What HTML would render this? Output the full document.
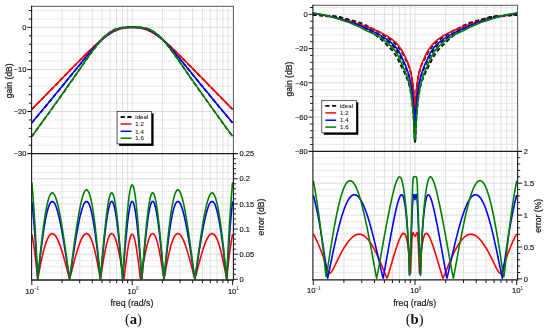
<!DOCTYPE html>
<html lang="en"><head><meta charset="utf-8"><title>Figure</title>
<style>html,body{margin:0;padding:0;background:#fff}svg{display:block}</style></head>
<body>
<svg width="550" height="330" viewBox="0 0 550 330">
<rect width="550" height="330" fill="#fff"/>
<defs>
<clipPath id="cua"><rect x="31.6" y="6.3" width="202.4" height="147.3"/></clipPath>
<clipPath id="cla"><rect x="31.6" y="153.6" width="202.6" height="126.4"/></clipPath>
<clipPath id="cub"><rect x="312.9" y="5.3" width="205.3" height="146"/></clipPath>
<clipPath id="clb"><rect x="312.9" y="151.3" width="205.5" height="128.5"/></clipPath>
</defs>
<line x1="62.02" y1="6.3" x2="62.02" y2="280" stroke="#dadada" stroke-width="0.8" />
<line x1="79.7" y1="6.3" x2="79.7" y2="280" stroke="#dadada" stroke-width="0.8" />
<line x1="92.25" y1="6.3" x2="92.25" y2="280" stroke="#dadada" stroke-width="0.8" />
<line x1="101.98" y1="6.3" x2="101.98" y2="280" stroke="#dadada" stroke-width="0.8" />
<line x1="109.93" y1="6.3" x2="109.93" y2="280" stroke="#dadada" stroke-width="0.8" />
<line x1="116.65" y1="6.3" x2="116.65" y2="280" stroke="#dadada" stroke-width="0.8" />
<line x1="122.47" y1="6.3" x2="122.47" y2="280" stroke="#dadada" stroke-width="0.8" />
<line x1="127.61" y1="6.3" x2="127.61" y2="280" stroke="#dadada" stroke-width="0.8" />
<line x1="132.2" y1="6.3" x2="132.2" y2="280" stroke="#dadada" stroke-width="0.8" />
<line x1="162.42" y1="6.3" x2="162.42" y2="280" stroke="#dadada" stroke-width="0.8" />
<line x1="180.1" y1="6.3" x2="180.1" y2="280" stroke="#dadada" stroke-width="0.8" />
<line x1="192.65" y1="6.3" x2="192.65" y2="280" stroke="#dadada" stroke-width="0.8" />
<line x1="202.38" y1="6.3" x2="202.38" y2="280" stroke="#dadada" stroke-width="0.8" />
<line x1="210.33" y1="6.3" x2="210.33" y2="280" stroke="#dadada" stroke-width="0.8" />
<line x1="217.05" y1="6.3" x2="217.05" y2="280" stroke="#dadada" stroke-width="0.8" />
<line x1="222.87" y1="6.3" x2="222.87" y2="280" stroke="#dadada" stroke-width="0.8" />
<line x1="228.01" y1="6.3" x2="228.01" y2="280" stroke="#dadada" stroke-width="0.8" />
<line x1="31.6" y1="10.57" x2="233.4" y2="10.57" stroke="#cfcfcf" stroke-width="0.7" stroke-dasharray="1.2 0.9"/>
<line x1="31.6" y1="18.99" x2="233.4" y2="18.99" stroke="#cfcfcf" stroke-width="0.7" stroke-dasharray="1.2 0.9"/>
<line x1="31.6" y1="27.4" x2="233.4" y2="27.4" stroke="#cfcfcf" stroke-width="0.7" />
<line x1="31.6" y1="35.81" x2="233.4" y2="35.81" stroke="#cfcfcf" stroke-width="0.7" stroke-dasharray="1.2 0.9"/>
<line x1="31.6" y1="44.23" x2="233.4" y2="44.23" stroke="#cfcfcf" stroke-width="0.7" stroke-dasharray="1.2 0.9"/>
<line x1="31.6" y1="52.64" x2="233.4" y2="52.64" stroke="#cfcfcf" stroke-width="0.7" stroke-dasharray="1.2 0.9"/>
<line x1="31.6" y1="61.06" x2="233.4" y2="61.06" stroke="#cfcfcf" stroke-width="0.7" stroke-dasharray="1.2 0.9"/>
<line x1="31.6" y1="69.47" x2="233.4" y2="69.47" stroke="#cfcfcf" stroke-width="0.7" />
<line x1="31.6" y1="77.88" x2="233.4" y2="77.88" stroke="#cfcfcf" stroke-width="0.7" stroke-dasharray="1.2 0.9"/>
<line x1="31.6" y1="86.3" x2="233.4" y2="86.3" stroke="#cfcfcf" stroke-width="0.7" stroke-dasharray="1.2 0.9"/>
<line x1="31.6" y1="94.71" x2="233.4" y2="94.71" stroke="#cfcfcf" stroke-width="0.7" stroke-dasharray="1.2 0.9"/>
<line x1="31.6" y1="103.13" x2="233.4" y2="103.13" stroke="#cfcfcf" stroke-width="0.7" stroke-dasharray="1.2 0.9"/>
<line x1="31.6" y1="111.54" x2="233.4" y2="111.54" stroke="#cfcfcf" stroke-width="0.7" />
<line x1="31.6" y1="119.95" x2="233.4" y2="119.95" stroke="#cfcfcf" stroke-width="0.7" stroke-dasharray="1.2 0.9"/>
<line x1="31.6" y1="128.37" x2="233.4" y2="128.37" stroke="#cfcfcf" stroke-width="0.7" stroke-dasharray="1.2 0.9"/>
<line x1="31.6" y1="136.78" x2="233.4" y2="136.78" stroke="#cfcfcf" stroke-width="0.7" stroke-dasharray="1.2 0.9"/>
<line x1="31.6" y1="145.2" x2="233.4" y2="145.2" stroke="#cfcfcf" stroke-width="0.7" stroke-dasharray="1.2 0.9"/>
<line x1="31.6" y1="273.02" x2="233.4" y2="273.02" stroke="#cfcfcf" stroke-width="0.7" stroke-dasharray="1.2 0.9"/>
<line x1="31.6" y1="266.74" x2="233.4" y2="266.74" stroke="#cfcfcf" stroke-width="0.7" stroke-dasharray="1.2 0.9"/>
<line x1="31.6" y1="260.45" x2="233.4" y2="260.45" stroke="#cfcfcf" stroke-width="0.7" stroke-dasharray="1.2 0.9"/>
<line x1="31.6" y1="254.17" x2="233.4" y2="254.17" stroke="#cfcfcf" stroke-width="0.7" />
<line x1="31.6" y1="247.89" x2="233.4" y2="247.89" stroke="#cfcfcf" stroke-width="0.7" stroke-dasharray="1.2 0.9"/>
<line x1="31.6" y1="241.61" x2="233.4" y2="241.61" stroke="#cfcfcf" stroke-width="0.7" stroke-dasharray="1.2 0.9"/>
<line x1="31.6" y1="235.32" x2="233.4" y2="235.32" stroke="#cfcfcf" stroke-width="0.7" stroke-dasharray="1.2 0.9"/>
<line x1="31.6" y1="229.04" x2="233.4" y2="229.04" stroke="#cfcfcf" stroke-width="0.7" />
<line x1="31.6" y1="222.76" x2="233.4" y2="222.76" stroke="#cfcfcf" stroke-width="0.7" stroke-dasharray="1.2 0.9"/>
<line x1="31.6" y1="216.48" x2="233.4" y2="216.48" stroke="#cfcfcf" stroke-width="0.7" stroke-dasharray="1.2 0.9"/>
<line x1="31.6" y1="210.19" x2="233.4" y2="210.19" stroke="#cfcfcf" stroke-width="0.7" stroke-dasharray="1.2 0.9"/>
<line x1="31.6" y1="203.91" x2="233.4" y2="203.91" stroke="#cfcfcf" stroke-width="0.7" />
<line x1="31.6" y1="197.63" x2="233.4" y2="197.63" stroke="#cfcfcf" stroke-width="0.7" stroke-dasharray="1.2 0.9"/>
<line x1="31.6" y1="191.34" x2="233.4" y2="191.34" stroke="#cfcfcf" stroke-width="0.7" stroke-dasharray="1.2 0.9"/>
<line x1="31.6" y1="185.06" x2="233.4" y2="185.06" stroke="#cfcfcf" stroke-width="0.7" stroke-dasharray="1.2 0.9"/>
<line x1="31.6" y1="178.78" x2="233.4" y2="178.78" stroke="#cfcfcf" stroke-width="0.7" />
<line x1="31.6" y1="172.5" x2="233.4" y2="172.5" stroke="#cfcfcf" stroke-width="0.7" stroke-dasharray="1.2 0.9"/>
<line x1="31.6" y1="166.22" x2="233.4" y2="166.22" stroke="#cfcfcf" stroke-width="0.7" stroke-dasharray="1.2 0.9"/>
<line x1="31.6" y1="159.93" x2="233.4" y2="159.93" stroke="#cfcfcf" stroke-width="0.7" stroke-dasharray="1.2 0.9"/>
<line x1="343.91" y1="5.3" x2="343.91" y2="279.8" stroke="#dadada" stroke-width="0.8" />
<line x1="361.82" y1="5.3" x2="361.82" y2="279.8" stroke="#dadada" stroke-width="0.8" />
<line x1="374.53" y1="5.3" x2="374.53" y2="279.8" stroke="#dadada" stroke-width="0.8" />
<line x1="384.39" y1="5.3" x2="384.39" y2="279.8" stroke="#dadada" stroke-width="0.8" />
<line x1="392.44" y1="5.3" x2="392.44" y2="279.8" stroke="#dadada" stroke-width="0.8" />
<line x1="399.25" y1="5.3" x2="399.25" y2="279.8" stroke="#dadada" stroke-width="0.8" />
<line x1="405.14" y1="5.3" x2="405.14" y2="279.8" stroke="#dadada" stroke-width="0.8" />
<line x1="410.35" y1="5.3" x2="410.35" y2="279.8" stroke="#dadada" stroke-width="0.8" />
<line x1="415" y1="5.3" x2="415" y2="279.8" stroke="#dadada" stroke-width="0.8" />
<line x1="445.61" y1="5.3" x2="445.61" y2="279.8" stroke="#dadada" stroke-width="0.8" />
<line x1="463.52" y1="5.3" x2="463.52" y2="279.8" stroke="#dadada" stroke-width="0.8" />
<line x1="476.23" y1="5.3" x2="476.23" y2="279.8" stroke="#dadada" stroke-width="0.8" />
<line x1="486.09" y1="5.3" x2="486.09" y2="279.8" stroke="#dadada" stroke-width="0.8" />
<line x1="494.14" y1="5.3" x2="494.14" y2="279.8" stroke="#dadada" stroke-width="0.8" />
<line x1="500.95" y1="5.3" x2="500.95" y2="279.8" stroke="#dadada" stroke-width="0.8" />
<line x1="506.84" y1="5.3" x2="506.84" y2="279.8" stroke="#dadada" stroke-width="0.8" />
<line x1="512.05" y1="5.3" x2="512.05" y2="279.8" stroke="#dadada" stroke-width="0.8" />
<line x1="312.9" y1="7.5" x2="517.6" y2="7.5" stroke="#cfcfcf" stroke-width="0.7" stroke-dasharray="1.2 0.9"/>
<line x1="312.9" y1="14.35" x2="517.6" y2="14.35" stroke="#cfcfcf" stroke-width="0.7" />
<line x1="312.9" y1="21.2" x2="517.6" y2="21.2" stroke="#cfcfcf" stroke-width="0.7" stroke-dasharray="1.2 0.9"/>
<line x1="312.9" y1="28.05" x2="517.6" y2="28.05" stroke="#cfcfcf" stroke-width="0.7" stroke-dasharray="1.2 0.9"/>
<line x1="312.9" y1="34.89" x2="517.6" y2="34.89" stroke="#cfcfcf" stroke-width="0.7" stroke-dasharray="1.2 0.9"/>
<line x1="312.9" y1="41.74" x2="517.6" y2="41.74" stroke="#cfcfcf" stroke-width="0.7" stroke-dasharray="1.2 0.9"/>
<line x1="312.9" y1="48.59" x2="517.6" y2="48.59" stroke="#cfcfcf" stroke-width="0.7" />
<line x1="312.9" y1="55.44" x2="517.6" y2="55.44" stroke="#cfcfcf" stroke-width="0.7" stroke-dasharray="1.2 0.9"/>
<line x1="312.9" y1="62.29" x2="517.6" y2="62.29" stroke="#cfcfcf" stroke-width="0.7" stroke-dasharray="1.2 0.9"/>
<line x1="312.9" y1="69.13" x2="517.6" y2="69.13" stroke="#cfcfcf" stroke-width="0.7" stroke-dasharray="1.2 0.9"/>
<line x1="312.9" y1="75.98" x2="517.6" y2="75.98" stroke="#cfcfcf" stroke-width="0.7" stroke-dasharray="1.2 0.9"/>
<line x1="312.9" y1="82.83" x2="517.6" y2="82.83" stroke="#cfcfcf" stroke-width="0.7" />
<line x1="312.9" y1="89.68" x2="517.6" y2="89.68" stroke="#cfcfcf" stroke-width="0.7" stroke-dasharray="1.2 0.9"/>
<line x1="312.9" y1="96.53" x2="517.6" y2="96.53" stroke="#cfcfcf" stroke-width="0.7" stroke-dasharray="1.2 0.9"/>
<line x1="312.9" y1="103.37" x2="517.6" y2="103.37" stroke="#cfcfcf" stroke-width="0.7" stroke-dasharray="1.2 0.9"/>
<line x1="312.9" y1="110.22" x2="517.6" y2="110.22" stroke="#cfcfcf" stroke-width="0.7" stroke-dasharray="1.2 0.9"/>
<line x1="312.9" y1="117.07" x2="517.6" y2="117.07" stroke="#cfcfcf" stroke-width="0.7" />
<line x1="312.9" y1="123.92" x2="517.6" y2="123.92" stroke="#cfcfcf" stroke-width="0.7" stroke-dasharray="1.2 0.9"/>
<line x1="312.9" y1="130.77" x2="517.6" y2="130.77" stroke="#cfcfcf" stroke-width="0.7" stroke-dasharray="1.2 0.9"/>
<line x1="312.9" y1="137.61" x2="517.6" y2="137.61" stroke="#cfcfcf" stroke-width="0.7" stroke-dasharray="1.2 0.9"/>
<line x1="312.9" y1="144.46" x2="517.6" y2="144.46" stroke="#cfcfcf" stroke-width="0.7" stroke-dasharray="1.2 0.9"/>
<line x1="312.9" y1="272.52" x2="517.6" y2="272.52" stroke="#cfcfcf" stroke-width="0.7" stroke-dasharray="1.2 0.9"/>
<line x1="312.9" y1="266.14" x2="517.6" y2="266.14" stroke="#cfcfcf" stroke-width="0.7" stroke-dasharray="1.2 0.9"/>
<line x1="312.9" y1="259.76" x2="517.6" y2="259.76" stroke="#cfcfcf" stroke-width="0.7" stroke-dasharray="1.2 0.9"/>
<line x1="312.9" y1="253.38" x2="517.6" y2="253.38" stroke="#cfcfcf" stroke-width="0.7" stroke-dasharray="1.2 0.9"/>
<line x1="312.9" y1="247" x2="517.6" y2="247" stroke="#cfcfcf" stroke-width="0.7" />
<line x1="312.9" y1="240.62" x2="517.6" y2="240.62" stroke="#cfcfcf" stroke-width="0.7" stroke-dasharray="1.2 0.9"/>
<line x1="312.9" y1="234.24" x2="517.6" y2="234.24" stroke="#cfcfcf" stroke-width="0.7" stroke-dasharray="1.2 0.9"/>
<line x1="312.9" y1="227.86" x2="517.6" y2="227.86" stroke="#cfcfcf" stroke-width="0.7" stroke-dasharray="1.2 0.9"/>
<line x1="312.9" y1="221.48" x2="517.6" y2="221.48" stroke="#cfcfcf" stroke-width="0.7" stroke-dasharray="1.2 0.9"/>
<line x1="312.9" y1="215.1" x2="517.6" y2="215.1" stroke="#cfcfcf" stroke-width="0.7" />
<line x1="312.9" y1="208.72" x2="517.6" y2="208.72" stroke="#cfcfcf" stroke-width="0.7" stroke-dasharray="1.2 0.9"/>
<line x1="312.9" y1="202.34" x2="517.6" y2="202.34" stroke="#cfcfcf" stroke-width="0.7" stroke-dasharray="1.2 0.9"/>
<line x1="312.9" y1="195.96" x2="517.6" y2="195.96" stroke="#cfcfcf" stroke-width="0.7" stroke-dasharray="1.2 0.9"/>
<line x1="312.9" y1="189.58" x2="517.6" y2="189.58" stroke="#cfcfcf" stroke-width="0.7" stroke-dasharray="1.2 0.9"/>
<line x1="312.9" y1="183.2" x2="517.6" y2="183.2" stroke="#cfcfcf" stroke-width="0.7" />
<line x1="312.9" y1="176.82" x2="517.6" y2="176.82" stroke="#cfcfcf" stroke-width="0.7" stroke-dasharray="1.2 0.9"/>
<line x1="312.9" y1="170.44" x2="517.6" y2="170.44" stroke="#cfcfcf" stroke-width="0.7" stroke-dasharray="1.2 0.9"/>
<line x1="312.9" y1="164.06" x2="517.6" y2="164.06" stroke="#cfcfcf" stroke-width="0.7" stroke-dasharray="1.2 0.9"/>
<line x1="312.9" y1="157.68" x2="517.6" y2="157.68" stroke="#cfcfcf" stroke-width="0.7" stroke-dasharray="1.2 0.9"/>
<g clip-path="url(#cua)">
<polyline points="31.8,109.37 33.05,108.09 34.31,106.82 35.56,105.55 36.82,104.27 38.07,103 39.33,101.72 40.58,100.44 41.84,99.17 43.09,97.89 44.35,96.61 45.6,95.33 46.86,94.05 48.11,92.77 49.37,91.49 50.62,90.21 51.88,88.93 53.13,87.65 54.39,86.36 55.64,85.08 56.9,83.8 58.15,82.51 59.41,81.23 60.66,79.94 61.92,78.66 63.17,77.37 64.43,76.09 65.68,74.8 66.94,73.52 68.19,72.23 69.45,70.95 70.7,69.67 71.96,68.38 73.22,67.1 74.47,65.82 75.72,64.54 76.98,63.27 78.23,62 79.49,60.73 80.74,59.46 82,58.2 83.25,56.94 84.51,55.69 85.76,54.44 87.02,53.2 88.27,51.97 89.53,50.75 90.78,49.54 92.04,48.35 93.29,47.16 94.55,45.99 95.8,44.84 97.06,43.7 98.31,42.59 99.57,41.5 100.82,40.43 102.08,39.39 103.33,38.37 104.59,37.39 105.84,36.45 107.1,35.54 108.35,34.67 109.61,33.84 110.86,33.05 112.12,32.31 113.37,31.62 114.63,30.98 115.88,30.38 117.14,29.84 118.39,29.36 119.65,28.92 120.91,28.54 122.16,28.21 123.41,27.93 124.67,27.7 125.92,27.52 127.18,27.38 128.44,27.29 129.69,27.23 130.94,27.2 132.2,27.19 133.45,27.2 134.71,27.23 135.97,27.29 137.22,27.38 138.47,27.52 139.73,27.7 140.99,27.93 142.24,28.21 143.5,28.54 144.75,28.92 146,29.36 147.26,29.84 148.51,30.38 149.77,30.98 151.02,31.62 152.28,32.31 153.53,33.05 154.79,33.84 156.04,34.67 157.3,35.54 158.56,36.45 159.81,37.39 161.06,38.37 162.32,39.39 163.57,40.43 164.83,41.5 166.09,42.59 167.34,43.7 168.59,44.84 169.85,45.99 171.11,47.16 172.36,48.35 173.62,49.54 174.87,50.75 176.12,51.97 177.38,53.2 178.63,54.44 179.89,55.69 181.14,56.94 182.4,58.2 183.66,59.46 184.91,60.73 186.16,62 187.42,63.27 188.67,64.54 189.93,65.82 191.19,67.1 192.44,68.38 193.69,69.67 194.95,70.95 196.21,72.23 197.46,73.52 198.72,74.8 199.97,76.09 201.22,77.37 202.48,78.66 203.74,79.94 204.99,81.23 206.25,82.51 207.5,83.8 208.75,85.08 210.01,86.36 211.26,87.65 212.52,88.93 213.77,90.21 215.03,91.49 216.29,92.77 217.54,94.05 218.8,95.33 220.05,96.61 221.31,97.89 222.56,99.17 223.81,100.44 225.07,101.72 226.32,103 227.58,104.27 228.84,105.55 230.09,106.82 231.34,108.09 232.6,109.37" fill="none" stroke="#111" stroke-width="1.7" stroke-linejoin="round" stroke-dasharray="4.2 2.5"/>
<polyline points="31.8,122.92 33.05,121.43 34.31,119.93 35.56,118.43 36.82,116.94 38.07,115.44 39.33,113.94 40.58,112.43 41.84,110.93 43.09,109.43 44.35,107.92 45.6,106.41 46.86,104.9 48.11,103.39 49.37,101.88 50.62,100.36 51.88,98.84 53.13,97.33 54.39,95.81 55.64,94.28 56.9,92.76 58.15,91.23 59.41,89.7 60.66,88.17 61.92,86.64 63.17,85.11 64.43,83.57 65.68,82.04 66.94,80.5 68.19,78.96 69.45,77.41 70.7,75.87 71.96,74.33 73.22,72.78 74.47,71.24 75.72,69.69 76.98,68.15 78.23,66.61 79.49,65.07 80.74,63.53 82,62 83.25,60.47 84.51,58.94 85.76,57.43 87.02,55.92 88.27,54.42 89.53,52.94 90.78,51.46 92.04,50.01 93.29,48.57 94.55,47.16 95.8,45.77 97.06,44.41 98.31,43.08 99.57,41.78 100.82,40.52 102.08,39.31 103.33,38.14 104.59,37.02 105.84,35.95 107.1,34.94 108.35,33.99 109.61,33.11 110.86,32.28 112.12,31.53 113.37,30.84 114.63,30.22 115.88,29.66 117.14,29.17 118.39,28.75 119.65,28.39 120.91,28.08 122.16,27.83 123.41,27.63 124.67,27.48 125.92,27.36 127.18,27.28 128.44,27.23 129.69,27.2 130.94,27.19 132.2,27.19 133.45,27.19 134.71,27.2 135.97,27.23 137.22,27.28 138.47,27.36 139.73,27.48 140.99,27.63 142.24,27.83 143.5,28.08 144.75,28.39 146,28.75 147.26,29.17 148.51,29.66 149.77,30.22 151.02,30.84 152.28,31.53 153.53,32.28 154.79,33.11 156.04,33.99 157.3,34.94 158.56,35.95 159.81,37.02 161.06,38.14 162.32,39.31 163.57,40.52 164.83,41.78 166.09,43.08 167.34,44.41 168.59,45.77 169.85,47.16 171.11,48.57 172.36,50.01 173.62,51.46 174.87,52.94 176.12,54.42 177.38,55.92 178.63,57.43 179.89,58.94 181.14,60.47 182.4,62 183.66,63.53 184.91,65.07 186.16,66.61 187.42,68.15 188.67,69.69 189.93,71.24 191.19,72.78 192.44,74.33 193.69,75.87 194.95,77.41 196.21,78.96 197.46,80.5 198.72,82.04 199.97,83.57 201.22,85.11 202.48,86.64 203.74,88.17 204.99,89.7 206.25,91.23 207.5,92.76 208.75,94.28 210.01,95.81 211.26,97.33 212.52,98.84 213.77,100.36 215.03,101.88 216.29,103.39 217.54,104.9 218.8,106.41 220.05,107.92 221.31,109.43 222.56,110.93 223.81,112.43 225.07,113.94 226.32,115.44 227.58,116.94 228.84,118.43 230.09,119.93 231.34,121.43 232.6,122.92" fill="none" stroke="#111" stroke-width="1.7" stroke-linejoin="round" stroke-dasharray="4.2 2.5"/>
<polyline points="31.8,136.53 33.05,134.82 34.31,133.11 35.56,131.39 36.82,129.67 38.07,127.95 39.33,126.23 40.58,124.5 41.84,122.78 43.09,121.05 44.35,119.32 45.6,117.58 46.86,115.85 48.11,114.11 49.37,112.37 50.62,110.62 51.88,108.87 53.13,107.12 54.39,105.37 55.64,103.61 56.9,101.85 58.15,100.09 59.41,98.32 60.66,96.55 61.92,94.77 63.17,92.99 64.43,91.21 65.68,89.42 66.94,87.63 68.19,85.84 69.45,84.04 70.7,82.24 71.96,80.43 73.22,78.63 74.47,76.82 75.72,75.01 76.98,73.19 78.23,71.38 79.49,69.56 80.74,67.75 82,65.94 83.25,64.13 84.51,62.33 85.76,60.53 87.02,58.74 88.27,56.97 89.53,55.2 90.78,53.46 92.04,51.74 93.29,50.04 94.55,48.37 95.8,46.73 97.06,45.13 98.31,43.58 99.57,42.07 100.82,40.62 102.08,39.23 103.33,37.91 104.59,36.66 105.84,35.48 107.1,34.39 108.35,33.37 109.61,32.45 110.86,31.61 112.12,30.85 113.37,30.19 114.63,29.6 115.88,29.1 117.14,28.67 118.39,28.31 119.65,28.01 120.91,27.78 122.16,27.59 123.41,27.45 124.67,27.35 125.92,27.28 127.18,27.23 128.44,27.21 129.69,27.19 130.94,27.19 132.2,27.19 133.45,27.19 134.71,27.19 135.97,27.21 137.22,27.23 138.47,27.28 139.73,27.35 140.99,27.45 142.24,27.59 143.5,27.78 144.75,28.01 146,28.31 147.26,28.67 148.51,29.1 149.77,29.6 151.02,30.19 152.28,30.85 153.53,31.61 154.79,32.45 156.04,33.37 157.3,34.39 158.56,35.48 159.81,36.66 161.06,37.91 162.32,39.23 163.57,40.62 164.83,42.07 166.09,43.58 167.34,45.13 168.59,46.73 169.85,48.37 171.11,50.04 172.36,51.74 173.62,53.46 174.87,55.2 176.12,56.97 177.38,58.74 178.63,60.53 179.89,62.33 181.14,64.13 182.4,65.94 183.66,67.75 184.91,69.56 186.16,71.38 187.42,73.19 188.67,75.01 189.93,76.82 191.19,78.63 192.44,80.43 193.69,82.24 194.95,84.04 196.21,85.84 197.46,87.63 198.72,89.42 199.97,91.21 201.22,92.99 202.48,94.77 203.74,96.55 204.99,98.32 206.25,100.09 207.5,101.85 208.75,103.61 210.01,105.37 211.26,107.12 212.52,108.87 213.77,110.62 215.03,112.37 216.29,114.11 217.54,115.85 218.8,117.58 220.05,119.32 221.31,121.05 222.56,122.78 223.81,124.5 225.07,126.23 226.32,127.95 227.58,129.67 228.84,131.39 230.09,133.11 231.34,134.82 232.6,136.53" fill="none" stroke="#111" stroke-width="1.7" stroke-linejoin="round" stroke-dasharray="4.2 2.5"/>
<polyline points="31.8,109.25 33.05,107.97 34.31,106.7 35.56,105.42 36.82,104.15 38.07,102.88 39.33,101.6 40.58,100.32 41.84,99.05 43.09,97.77 44.35,96.49 45.6,95.21 46.86,93.93 48.11,92.66 49.37,91.38 50.62,90.1 51.88,88.81 53.13,87.53 54.39,86.25 55.64,84.97 56.9,83.69 58.15,82.4 59.41,81.12 60.66,79.84 61.92,78.55 63.17,77.27 64.43,75.99 65.68,74.7 66.94,73.42 68.19,72.14 69.45,70.85 70.7,69.57 71.96,68.29 73.22,67.02 74.47,65.74 75.72,64.46 76.98,63.19 78.23,61.92 79.49,60.65 80.74,59.39 82,58.13 83.25,56.88 84.51,55.63 85.76,54.39 87.02,53.16 88.27,51.94 89.53,50.72 90.78,49.52 92.04,48.33 93.29,47.15 94.55,45.99 95.8,44.84 97.06,43.71 98.31,42.61 99.57,41.52 100.82,40.47 102.08,39.43 103.33,38.43 104.59,37.46 105.84,36.52 107.1,35.62 108.35,34.76 109.61,33.94 110.86,33.17 112.12,32.44 113.37,31.76 114.63,31.12 115.88,30.54 117.14,30.01 118.39,29.53 119.65,29.1 120.91,28.73 122.16,28.4 123.41,28.13 124.67,27.91 125.92,27.73 127.18,27.59 128.44,27.5 129.69,27.44 130.94,27.41 132.2,27.4 133.45,27.41 134.71,27.44 135.97,27.5 137.22,27.59 138.47,27.73 139.73,27.91 140.99,28.13 142.24,28.4 143.5,28.73 144.75,29.1 146,29.53 147.26,30.01 148.51,30.54 149.77,31.12 151.02,31.76 152.28,32.44 153.53,33.17 154.79,33.94 156.04,34.76 157.3,35.62 158.56,36.52 159.81,37.46 161.06,38.43 162.32,39.43 163.57,40.47 164.83,41.52 166.09,42.61 167.34,43.71 168.59,44.84 169.85,45.99 171.11,47.15 172.36,48.33 173.62,49.52 174.87,50.72 176.12,51.94 177.38,53.16 178.63,54.39 179.89,55.63 181.14,56.88 182.4,58.13 183.66,59.39 184.91,60.65 186.16,61.92 187.42,63.19 188.67,64.46 189.93,65.74 191.19,67.02 192.44,68.29 193.69,69.57 194.95,70.85 196.21,72.14 197.46,73.42 198.72,74.7 199.97,75.99 201.22,77.27 202.48,78.55 203.74,79.84 204.99,81.12 206.25,82.4 207.5,83.69 208.75,84.97 210.01,86.25 211.26,87.53 212.52,88.81 213.77,90.1 215.03,91.38 216.29,92.66 217.54,93.93 218.8,95.21 220.05,96.49 221.31,97.77 222.56,99.05 223.81,100.32 225.07,101.6 226.32,102.88 227.58,104.15 228.84,105.42 230.09,106.7 231.34,107.97 232.6,109.25" fill="none" stroke="#ff0000" stroke-width="1.6" stroke-linejoin="round" />
<polyline points="31.8,122.74 33.05,121.25 34.31,119.75 35.56,118.26 36.82,116.76 38.07,115.26 39.33,113.76 40.58,112.26 41.84,110.75 43.09,109.25 44.35,107.74 45.6,106.23 46.86,104.72 48.11,103.21 49.37,101.7 50.62,100.19 51.88,98.67 53.13,97.15 54.39,95.63 55.64,94.11 56.9,92.59 58.15,91.06 59.41,89.54 60.66,88.01 61.92,86.48 63.17,84.94 64.43,83.41 65.68,81.87 66.94,80.34 68.19,78.8 69.45,77.26 70.7,75.72 71.96,74.18 73.22,72.63 74.47,71.09 75.72,69.55 76.98,68.01 78.23,66.47 79.49,64.94 80.74,63.4 82,61.87 83.25,60.35 84.51,58.83 85.76,57.32 87.02,55.82 88.27,54.33 89.53,52.85 90.78,51.39 92.04,49.94 93.29,48.51 94.55,47.11 95.8,45.73 97.06,44.38 98.31,43.06 99.57,41.78 100.82,40.53 102.08,39.33 103.33,38.17 104.59,37.07 105.84,36.02 107.1,35.02 108.35,34.08 109.61,33.21 110.86,32.4 112.12,31.66 113.37,30.98 114.63,30.37 115.88,29.82 117.14,29.34 118.39,28.93 119.65,28.57 120.91,28.27 122.16,28.03 123.41,27.83 124.67,27.68 125.92,27.57 127.18,27.49 128.44,27.44 129.69,27.41 130.94,27.4 132.2,27.4 133.45,27.4 134.71,27.41 135.97,27.44 137.22,27.49 138.47,27.57 139.73,27.68 140.99,27.83 142.24,28.03 143.5,28.27 144.75,28.57 146,28.93 147.26,29.34 148.51,29.82 149.77,30.37 151.02,30.98 152.28,31.66 153.53,32.4 154.79,33.21 156.04,34.08 157.3,35.02 158.56,36.02 159.81,37.07 161.06,38.17 162.32,39.33 163.57,40.53 164.83,41.78 166.09,43.06 167.34,44.38 168.59,45.73 169.85,47.11 171.11,48.51 172.36,49.94 173.62,51.39 174.87,52.85 176.12,54.33 177.38,55.82 178.63,57.32 179.89,58.83 181.14,60.35 182.4,61.87 183.66,63.4 184.91,64.94 186.16,66.47 187.42,68.01 188.67,69.55 189.93,71.09 191.19,72.63 192.44,74.18 193.69,75.72 194.95,77.26 196.21,78.8 197.46,80.34 198.72,81.87 199.97,83.41 201.22,84.94 202.48,86.48 203.74,88.01 204.99,89.54 206.25,91.06 207.5,92.59 208.75,94.11 210.01,95.63 211.26,97.15 212.52,98.67 213.77,100.19 215.03,101.7 216.29,103.21 217.54,104.72 218.8,106.23 220.05,107.74 221.31,109.25 222.56,110.75 223.81,112.26 225.07,113.76 226.32,115.26 227.58,116.76 228.84,118.26 230.09,119.75 231.34,121.25 232.6,122.74" fill="none" stroke="#0000ff" stroke-width="1.6" stroke-linejoin="round" />
<polyline points="31.8,136.3 33.05,134.58 34.31,132.87 35.56,131.15 36.82,129.43 38.07,127.71 39.33,125.99 40.58,124.27 41.84,122.54 43.09,120.81 44.35,119.08 45.6,117.35 46.86,115.61 48.11,113.87 49.37,112.13 50.62,110.39 51.88,108.64 53.13,106.89 54.39,105.14 55.64,103.38 56.9,101.62 58.15,99.86 59.41,98.09 60.66,96.32 61.92,94.54 63.17,92.77 64.43,90.98 65.68,89.2 66.94,87.41 68.19,85.62 69.45,83.82 70.7,82.02 71.96,80.22 73.22,78.42 74.47,76.61 75.72,74.8 76.98,72.99 78.23,71.18 79.49,69.37 80.74,67.56 82,65.75 83.25,63.95 84.51,62.15 85.76,60.37 87.02,58.59 88.27,56.82 89.53,55.06 90.78,53.33 92.04,51.62 93.29,49.93 94.55,48.27 95.8,46.65 97.06,45.06 98.31,43.52 99.57,42.03 100.82,40.6 102.08,39.23 103.33,37.92 104.59,36.69 105.84,35.53 107.1,34.45 108.35,33.46 109.61,32.55 110.86,31.72 112.12,30.98 113.37,30.33 114.63,29.76 115.88,29.26 117.14,28.84 118.39,28.49 119.65,28.2 120.91,27.97 122.16,27.79 123.41,27.65 124.67,27.56 125.92,27.49 127.18,27.44 128.44,27.42 129.69,27.4 130.94,27.4 132.2,27.4 133.45,27.4 134.71,27.4 135.97,27.42 137.22,27.44 138.47,27.49 139.73,27.56 140.99,27.65 142.24,27.79 143.5,27.97 144.75,28.2 146,28.49 147.26,28.84 148.51,29.26 149.77,29.76 151.02,30.33 152.28,30.98 153.53,31.72 154.79,32.55 156.04,33.46 157.3,34.45 158.56,35.53 159.81,36.69 161.06,37.92 162.32,39.23 163.57,40.6 164.83,42.03 166.09,43.52 167.34,45.06 168.59,46.65 169.85,48.27 171.11,49.93 172.36,51.62 173.62,53.33 174.87,55.06 176.12,56.82 177.38,58.59 178.63,60.37 179.89,62.15 181.14,63.95 182.4,65.75 183.66,67.56 184.91,69.37 186.16,71.18 187.42,72.99 188.67,74.8 189.93,76.61 191.19,78.42 192.44,80.22 193.69,82.02 194.95,83.82 196.21,85.62 197.46,87.41 198.72,89.2 199.97,90.98 201.22,92.77 202.48,94.54 203.74,96.32 204.99,98.09 206.25,99.86 207.5,101.62 208.75,103.38 210.01,105.14 211.26,106.89 212.52,108.64 213.77,110.39 215.03,112.13 216.29,113.87 217.54,115.61 218.8,117.35 220.05,119.08 221.31,120.81 222.56,122.54 223.81,124.27 225.07,125.99 226.32,127.71 227.58,129.43 228.84,131.15 230.09,132.87 231.34,134.58 232.6,136.3" fill="none" stroke="#008000" stroke-width="1.6" stroke-linejoin="round" />
</g>
<g clip-path="url(#cla)">
<polyline points="31.8,234.07 32.26,236.42 32.71,238.96 33.17,241.69 33.62,244.61 34.08,247.72 34.53,251.01 34.99,254.49 35.45,258.16 35.9,262.01 36.36,266.05 36.81,270.28 37.27,274.7 37.72,278.7 38.4,275.62 39.09,271.96 39.79,268.35 40.49,264.82 41.2,261.37 41.92,258.05 42.65,254.86 43.38,251.82 44.12,248.97 44.87,246.31 45.62,243.87 46.38,241.66 47.14,239.69 47.92,237.98 48.7,236.54 49.48,235.37 50.27,234.49 51.07,233.9 51.88,233.6 52.69,233.6 53.51,233.9 54.33,234.49 55.17,235.37 56.01,236.54 56.86,237.98 57.72,239.69 58.59,241.66 59.46,243.87 60.34,246.31 61.23,248.97 62.13,251.82 63.03,254.86 63.94,258.05 64.86,261.37 65.78,264.82 66.71,268.35 67.65,271.96 68.6,275.62 69.55,278.7 70.5,275.62 71.44,271.96 72.37,268.35 73.29,264.82 74.21,261.37 75.11,258.05 76.01,254.86 76.9,251.82 77.79,248.97 78.66,246.31 79.53,243.87 80.38,241.66 81.23,239.69 82.07,237.98 82.9,236.54 83.72,235.37 84.53,234.49 85.33,233.9 86.13,233.6 86.91,233.6 87.68,233.9 88.45,234.49 89.22,235.37 89.97,236.54 90.72,237.98 91.46,239.69 92.19,241.66 92.92,243.87 93.64,246.31 94.35,248.97 95.05,251.82 95.74,254.86 96.43,258.05 97.11,261.37 97.78,264.82 98.44,268.35 99.09,271.96 99.74,275.62 100.37,278.7 100.93,275.62 101.5,271.96 102.06,268.35 102.63,264.82 103.2,261.37 103.77,258.05 104.34,254.86 104.92,251.82 105.5,248.97 106.08,246.31 106.66,243.87 107.25,241.66 107.84,239.69 108.43,237.98 109.02,236.54 109.62,235.37 110.22,234.49 110.81,233.9 111.42,233.6 112.02,233.6 112.63,233.9 113.24,234.49 113.85,235.37 114.46,236.54 115.08,237.98 115.7,239.69 116.32,241.66 116.94,243.87 117.57,246.31 118.2,248.97 118.83,251.82 119.46,254.86 120.1,258.05 120.74,261.37 121.38,264.82 122.02,268.35 122.67,271.96 123.32,275.62 123.97,278.7 124.4,275.59 124.83,271.9 125.27,268.26 125.7,264.69 126.13,261.23 126.57,257.89 127,254.7 127.43,251.67 127.87,248.83 128.3,246.21 128.73,243.8 129.17,241.64 129.6,239.74 130.03,238.11 130.47,236.75 130.9,235.69 131.33,234.93 131.77,234.47 132.2,234.32 132.63,234.47 133.07,234.93 133.5,235.69 133.93,236.75 134.37,238.11 134.8,239.74 135.23,241.64 135.67,243.8 136.1,246.21 136.53,248.83 136.97,251.67 137.4,254.7 137.83,257.89 138.27,261.23 138.7,264.69 139.13,268.26 139.57,271.9 140,275.59 140.43,278.7 141.08,275.62 141.73,271.96 142.38,268.35 143.02,264.82 143.66,261.37 144.3,258.05 144.94,254.86 145.57,251.82 146.2,248.97 146.83,246.31 147.46,243.87 148.08,241.66 148.7,239.69 149.32,237.98 149.94,236.54 150.55,235.37 151.16,234.49 151.77,233.9 152.38,233.6 152.98,233.6 153.59,233.9 154.18,234.49 154.78,235.37 155.38,236.54 155.97,237.98 156.56,239.69 157.15,241.66 157.74,243.87 158.32,246.31 158.9,248.97 159.48,251.82 160.06,254.86 160.63,258.05 161.2,261.37 161.77,264.82 162.34,268.35 162.9,271.96 163.47,275.62 164.03,278.7 164.66,275.62 165.31,271.96 165.96,268.35 166.62,264.82 167.29,261.37 167.97,258.05 168.66,254.86 169.35,251.82 170.05,248.97 170.76,246.31 171.48,243.87 172.21,241.66 172.94,239.69 173.68,237.98 174.43,236.54 175.18,235.37 175.95,234.49 176.72,233.9 177.49,233.6 178.27,233.6 179.07,233.9 179.87,234.49 180.68,235.37 181.5,236.54 182.33,237.98 183.17,239.69 184.02,241.66 184.87,243.87 185.74,246.31 186.61,248.97 187.5,251.82 188.39,254.86 189.29,258.05 190.19,261.37 191.11,264.82 192.03,268.35 192.96,271.96 193.9,275.62 194.85,278.7 195.8,275.62 196.75,271.96 197.69,268.35 198.62,264.82 199.54,261.37 200.46,258.05 201.37,254.86 202.27,251.82 203.17,248.97 204.06,246.31 204.94,243.87 205.81,241.66 206.68,239.69 207.54,237.98 208.39,236.54 209.23,235.37 210.07,234.49 210.89,233.9 211.71,233.6 212.52,233.6 213.33,233.9 214.13,234.49 214.92,235.37 215.7,236.54 216.48,237.98 217.26,239.69 218.02,241.66 218.78,243.87 219.53,246.31 220.28,248.97 221.02,251.82 221.75,254.86 222.48,258.05 223.2,261.37 223.91,264.82 224.61,268.35 225.31,271.96 226,275.62 226.68,278.7 227.13,274.7 227.59,270.28 228.04,266.05 228.5,262.01 228.95,258.16 229.41,254.49 229.87,251.01 230.32,247.72 230.78,244.61 231.23,241.69 231.69,238.96 232.14,236.42 232.6,234.07" fill="none" stroke="#ff0000" stroke-width="1.6" stroke-linejoin="round" />
<polyline points="31.8,201.4 32.26,205.45 32.71,209.83 33.17,214.53 33.62,219.56 34.08,224.91 34.53,230.58 34.99,236.57 35.45,242.88 35.9,249.52 36.36,256.48 36.81,263.77 37.27,271.37 37.72,278.7 38.4,273.03 39.09,266.8 39.79,260.66 40.49,254.63 41.2,248.76 41.92,243.1 42.65,237.66 43.38,232.5 44.12,227.64 44.87,223.12 45.62,218.96 46.38,215.19 47.14,211.83 47.92,208.92 48.7,206.46 49.48,204.47 50.27,202.97 51.07,201.97 51.88,201.46 52.69,201.46 53.51,201.97 54.33,202.97 55.17,204.47 56.01,206.46 56.86,208.92 57.72,211.83 58.59,215.19 59.46,218.96 60.34,223.12 61.23,227.64 62.13,232.5 63.03,237.66 63.94,243.1 64.86,248.76 65.78,254.63 66.71,260.66 67.65,266.8 68.6,273.03 69.55,278.7 70.5,273.03 71.44,266.8 72.37,260.66 73.29,254.63 74.21,248.76 75.11,243.1 76.01,237.66 76.9,232.5 77.79,227.64 78.66,223.12 79.53,218.96 80.38,215.19 81.23,211.83 82.07,208.92 82.9,206.46 83.72,204.47 84.53,202.97 85.33,201.97 86.13,201.46 86.91,201.46 87.68,201.97 88.45,202.97 89.22,204.47 89.97,206.46 90.72,208.92 91.46,211.83 92.19,215.19 92.92,218.96 93.64,223.12 94.35,227.64 95.05,232.5 95.74,237.66 96.43,243.1 97.11,248.76 97.78,254.63 98.44,260.66 99.09,266.8 99.74,273.03 100.37,278.7 100.97,273.03 101.56,266.8 102.15,260.66 102.74,254.63 103.33,248.76 103.92,243.1 104.5,237.66 105.09,232.5 105.67,227.64 106.25,223.12 106.84,218.96 107.42,215.19 107.99,211.83 108.57,208.92 109.15,206.46 109.72,204.47 110.29,202.97 110.86,201.97 111.43,201.46 112,201.46 112.57,201.97 113.14,202.97 113.7,204.47 114.26,206.46 114.83,208.92 115.39,211.83 115.95,215.19 116.51,218.96 117.06,223.12 117.62,227.64 118.17,232.5 118.73,237.66 119.28,243.1 119.83,248.76 120.38,254.63 120.93,260.66 121.47,266.8 122.02,273.03 122.56,278.7 123.07,272.87 123.58,266.48 124.08,260.18 124.59,254 125.1,248.01 125.61,242.22 126.11,236.69 126.62,231.45 127.13,226.54 127.63,221.98 128.14,217.82 128.65,214.08 129.16,210.79 129.66,207.96 130.17,205.62 130.68,203.78 131.19,202.46 131.69,201.66 132.2,201.4 132.71,201.66 133.21,202.46 133.72,203.78 134.23,205.62 134.74,207.96 135.24,210.79 135.75,214.08 136.26,217.82 136.77,221.98 137.27,226.54 137.78,231.45 138.29,236.69 138.79,242.22 139.3,248.01 139.81,254 140.32,260.18 140.82,266.48 141.33,272.87 141.84,278.7 142.38,273.03 142.93,266.8 143.47,260.66 144.02,254.63 144.57,248.76 145.12,243.1 145.67,237.66 146.23,232.5 146.78,227.64 147.34,223.12 147.89,218.96 148.45,215.19 149.01,211.83 149.57,208.92 150.14,206.46 150.7,204.47 151.26,202.97 151.83,201.97 152.4,201.46 152.97,201.46 153.54,201.97 154.11,202.97 154.68,204.47 155.25,206.46 155.83,208.92 156.41,211.83 156.98,215.19 157.56,218.96 158.15,223.12 158.73,227.64 159.31,232.5 159.9,237.66 160.48,243.1 161.07,248.76 161.66,254.63 162.25,260.66 162.84,266.8 163.43,273.03 164.03,278.7 164.66,273.03 165.31,266.8 165.96,260.66 166.62,254.63 167.29,248.76 167.97,243.1 168.66,237.66 169.35,232.5 170.05,227.64 170.76,223.12 171.48,218.96 172.21,215.19 172.94,211.83 173.68,208.92 174.43,206.46 175.18,204.47 175.95,202.97 176.72,201.97 177.49,201.46 178.27,201.46 179.07,201.97 179.87,202.97 180.68,204.47 181.5,206.46 182.33,208.92 183.17,211.83 184.02,215.19 184.87,218.96 185.74,223.12 186.61,227.64 187.5,232.5 188.39,237.66 189.29,243.1 190.19,248.76 191.11,254.63 192.03,260.66 192.96,266.8 193.9,273.03 194.85,278.7 195.8,273.03 196.75,266.8 197.69,260.66 198.62,254.63 199.54,248.76 200.46,243.1 201.37,237.66 202.27,232.5 203.17,227.64 204.06,223.12 204.94,218.96 205.81,215.19 206.68,211.83 207.54,208.92 208.39,206.46 209.23,204.47 210.07,202.97 210.89,201.97 211.71,201.46 212.52,201.46 213.33,201.97 214.13,202.97 214.92,204.47 215.7,206.46 216.48,208.92 217.26,211.83 218.02,215.19 218.78,218.96 219.53,223.12 220.28,227.64 221.02,232.5 221.75,237.66 222.48,243.1 223.2,248.76 223.91,254.63 224.61,260.66 225.31,266.8 226,273.03 226.68,278.7 227.13,271.37 227.59,263.77 228.04,256.48 228.5,249.52 228.95,242.88 229.41,236.57 229.87,230.58 230.32,224.91 230.78,219.56 231.23,214.53 231.69,209.83 232.14,205.45 232.6,201.4" fill="none" stroke="#0000ff" stroke-width="1.6" stroke-linejoin="round" />
<polyline points="31.8,182.3 32.26,187.35 32.71,192.8 33.17,198.66 33.62,204.91 34.08,211.57 34.53,218.63 34.99,226.09 35.45,233.96 35.9,242.22 36.36,250.89 36.81,259.96 37.27,269.43 37.72,278.7 38.4,272.34 39.09,265.43 39.79,258.61 40.49,251.92 41.2,245.42 41.92,239.13 42.65,233.1 43.38,227.37 44.12,221.97 44.87,216.95 45.62,212.34 46.38,208.16 47.14,204.43 47.92,201.2 48.7,198.47 49.48,196.27 50.27,194.6 51.07,193.48 51.88,192.92 52.69,192.92 53.51,193.48 54.33,194.6 55.17,196.27 56.01,198.47 56.86,201.2 57.72,204.43 58.59,208.16 59.46,212.34 60.34,216.95 61.23,221.97 62.13,227.37 63.03,233.1 63.94,239.13 64.86,245.42 65.78,251.92 66.71,258.61 67.65,265.43 68.6,272.34 69.55,278.7 70.5,272.1 71.44,264.95 72.37,257.89 73.29,250.97 74.21,244.23 75.11,237.72 76.01,231.49 76.9,225.56 77.79,219.98 78.66,214.78 79.53,210 80.38,205.67 81.23,201.82 82.07,198.47 82.9,195.65 83.72,193.37 84.53,191.65 85.33,190.49 86.13,189.91 86.91,189.91 87.68,190.49 88.45,191.65 89.22,193.37 89.97,195.65 90.72,198.47 91.46,201.82 92.19,205.67 92.92,210 93.64,214.78 94.35,219.98 95.05,225.56 95.74,231.49 96.43,237.72 97.11,244.23 97.78,250.97 98.44,257.89 99.09,264.95 99.74,272.1 100.37,278.7 100.97,272.34 101.56,265.43 102.15,258.61 102.74,251.92 103.33,245.42 103.92,239.13 104.5,233.1 105.09,227.37 105.67,221.97 106.25,216.95 106.84,212.34 107.42,208.16 107.99,204.43 108.57,201.2 109.15,198.47 109.72,196.27 110.29,194.6 110.86,193.48 111.43,192.92 112,192.92 112.57,193.48 113.14,194.6 113.7,196.27 114.26,198.47 114.83,201.2 115.39,204.43 115.95,208.16 116.51,212.34 117.06,216.95 117.62,221.97 118.17,227.37 118.73,233.1 119.28,239.13 119.83,245.42 120.38,251.92 120.93,258.61 121.47,265.43 122.02,272.34 122.56,278.7 123.07,271.5 123.58,263.75 124.08,256.1 124.59,248.62 125.1,241.34 125.61,234.33 126.11,227.62 126.62,221.26 127.13,215.3 127.63,209.78 128.14,204.74 128.65,200.2 129.16,196.2 129.66,192.77 130.17,189.93 130.68,187.7 131.19,186.1 131.69,185.13 132.2,184.81 132.71,185.13 133.21,186.1 133.72,187.7 134.23,189.93 134.74,192.77 135.24,196.2 135.75,200.2 136.26,204.74 136.77,209.78 137.27,215.3 137.78,221.26 138.29,227.62 138.79,234.33 139.3,241.34 139.81,248.62 140.32,256.1 140.82,263.75 141.33,271.5 141.84,278.7 142.38,272.34 142.93,265.43 143.47,258.61 144.02,251.92 144.57,245.42 145.12,239.13 145.67,233.1 146.23,227.37 146.78,221.97 147.34,216.95 147.89,212.34 148.45,208.16 149.01,204.43 149.57,201.2 150.14,198.47 150.7,196.27 151.26,194.6 151.83,193.48 152.4,192.92 152.97,192.92 153.54,193.48 154.11,194.6 154.68,196.27 155.25,198.47 155.83,201.2 156.41,204.43 156.98,208.16 157.56,212.34 158.15,216.95 158.73,221.97 159.31,227.37 159.9,233.1 160.48,239.13 161.07,245.42 161.66,251.92 162.25,258.61 162.84,265.43 163.43,272.34 164.03,278.7 164.66,272.1 165.31,264.95 165.96,257.89 166.62,250.97 167.29,244.23 167.97,237.72 168.66,231.49 169.35,225.56 170.05,219.98 170.76,214.78 171.48,210 172.21,205.67 172.94,201.82 173.68,198.47 174.43,195.65 175.18,193.37 175.95,191.65 176.72,190.49 177.49,189.91 178.27,189.91 179.07,190.49 179.87,191.65 180.68,193.37 181.5,195.65 182.33,198.47 183.17,201.82 184.02,205.67 184.87,210 185.74,214.78 186.61,219.98 187.5,225.56 188.39,231.49 189.29,237.72 190.19,244.23 191.11,250.97 192.03,257.89 192.96,264.95 193.9,272.1 194.85,278.7 195.8,272.34 196.75,265.43 197.69,258.61 198.62,251.92 199.54,245.42 200.46,239.13 201.37,233.1 202.27,227.37 203.17,221.97 204.06,216.95 204.94,212.34 205.81,208.16 206.68,204.43 207.54,201.2 208.39,198.47 209.23,196.27 210.07,194.6 210.89,193.48 211.71,192.92 212.52,192.92 213.33,193.48 214.13,194.6 214.92,196.27 215.7,198.47 216.48,201.2 217.26,204.43 218.02,208.16 218.78,212.34 219.53,216.95 220.28,221.97 221.02,227.37 221.75,233.1 222.48,239.13 223.2,245.42 223.91,251.92 224.61,258.61 225.31,265.43 226,272.34 226.68,278.7 227.13,269.43 227.59,259.96 228.04,250.89 228.5,242.22 228.95,233.96 229.41,226.09 229.87,218.63 230.32,211.57 230.78,204.91 231.23,198.66 231.69,192.8 232.14,187.35 232.6,182.3" fill="none" stroke="#008000" stroke-width="1.6" stroke-linejoin="round" />
</g>
<g clip-path="url(#cub)">
<polyline points="312.3,14.99 313.69,15.03 315.08,15.08 316.47,15.15 317.87,15.23 319.26,15.32 320.65,15.44 322.04,15.58 323.43,15.73 324.82,15.91 326.22,16.08 327.61,16.21 329,16.31 330.39,16.39 331.78,16.47 333.17,16.56 334.56,16.67 335.96,16.81 337.35,16.97 338.74,17.17 340.13,17.41 341.52,17.7 342.91,18.05 344.31,18.44 345.7,18.82 347.09,19.2 348.48,19.56 349.87,19.9 351.26,20.25 352.65,20.63 354.05,21.01 355.44,21.41 356.83,21.83 358.22,22.27 359.61,22.72 361,23.2 362.39,23.74 363.79,24.34 365.18,24.99 366.57,25.68 367.96,26.41 369.35,27.13 370.74,27.82 372.14,28.49 373.53,29.18 374.92,29.89 376.31,30.61 377.7,31.38 379.09,32.18 380.48,33.01 381.88,33.88 383.27,34.79 384.66,35.71 386.05,36.63 387.44,37.56 388.83,38.5 390.23,39.46 391.62,40.47 393.01,41.59 394.4,42.82 395,43.4 395.34,43.75 395.68,44.1 396.03,44.46 396.37,44.83 396.71,45.21 397.05,45.6 397.39,46 397.73,46.41 398.08,46.82 398.42,47.25 398.76,47.69 399.1,48.13 399.44,48.59 399.79,49.05 400.13,49.52 400.47,50 400.81,50.5 401.15,51.02 401.49,51.55 401.84,52.11 402.18,52.69 402.52,53.28 402.86,53.89 403.2,54.52 403.55,55.16 403.89,55.82 404.23,56.49 404.57,57.17 404.91,57.85 405.26,58.53 405.6,59.22 405.94,59.91 406.28,60.61 406.62,61.29 406.96,61.95 407.31,62.62 407.65,63.31 407.99,64.02 408.33,64.78 408.67,65.59 409.02,66.48 409.36,67.44 409.7,68.51 410.04,69.69 410.38,70.97 410.72,72.34 411.07,73.83 411.41,75.46 411.75,77.25 412,78.68 412.2,79.91 412.4,81.23 412.6,82.66 412.8,84.22 413,85.92 413.2,87.8 413.4,89.9 413.6,92.28 413.8,95.03 414,98.27 414.2,102.24 414.4,107.34 414.6,114.46 414.8,126.07 415,141.89 415.2,126.07 415.4,114.46 415.6,107.34 415.8,102.24 416,98.27 416.2,95.03 416.4,92.28 416.6,89.9 416.8,87.8 417,85.92 417.2,84.22 417.4,82.66 417.6,81.23 417.8,79.91 418,78.68 418.25,77.25 418.59,75.46 418.93,73.83 419.28,72.34 419.62,70.97 419.96,69.69 420.3,68.51 420.64,67.44 420.98,66.48 421.33,65.59 421.67,64.78 422.01,64.02 422.35,63.31 422.69,62.62 423.04,61.95 423.38,61.29 423.72,60.61 424.06,59.91 424.4,59.22 424.74,58.53 425.09,57.85 425.43,57.17 425.77,56.49 426.11,55.82 426.45,55.16 426.8,54.52 427.14,53.89 427.48,53.28 427.82,52.69 428.16,52.11 428.51,51.55 428.85,51.02 429.19,50.5 429.53,50 429.87,49.52 430.21,49.05 430.56,48.59 430.9,48.13 431.24,47.69 431.58,47.25 431.92,46.82 432.27,46.41 432.61,46 432.95,45.6 433.29,45.21 433.63,44.83 433.97,44.46 434.32,44.1 434.66,43.75 435,43.4 435.6,42.82 436.99,41.59 438.38,40.47 439.77,39.46 441.17,38.5 442.56,37.56 443.95,36.63 445.34,35.71 446.73,34.79 448.12,33.88 449.52,33.01 450.91,32.18 452.3,31.38 453.69,30.61 455.08,29.89 456.47,29.18 457.86,28.49 459.26,27.82 460.65,27.13 462.04,26.41 463.43,25.68 464.82,24.99 466.21,24.34 467.61,23.74 469,23.2 470.39,22.72 471.78,22.27 473.17,21.83 474.56,21.41 475.95,21.01 477.35,20.63 478.74,20.25 480.13,19.9 481.52,19.56 482.91,19.2 484.3,18.82 485.69,18.44 487.09,18.05 488.48,17.7 489.87,17.41 491.26,17.17 492.65,16.97 494.04,16.81 495.44,16.67 496.83,16.56 498.22,16.47 499.61,16.39 501,16.31 502.39,16.21 503.78,16.08 505.18,15.91 506.57,15.73 507.96,15.58 509.35,15.44 510.74,15.32 512.13,15.23 513.53,15.15 514.92,15.08 516.31,15.03 517.7,14.99" fill="none" stroke="#111" stroke-width="1.9" stroke-linejoin="round" stroke-dasharray="4.2 2.5"/>
<polyline points="312.3,14.8 313.69,14.83 315.08,14.87 316.47,14.92 317.87,15 319.26,15.09 320.65,15.2 322.04,15.34 323.43,15.5 324.82,15.68 326.22,15.86 327.61,16 329,16.1 330.39,16.19 331.78,16.28 333.17,16.38 334.56,16.5 335.96,16.65 337.35,16.83 338.74,17.05 340.13,17.32 341.52,17.64 342.91,18.04 344.31,18.47 345.7,18.91 347.09,19.35 348.48,19.76 349.87,20.17 351.26,20.59 352.65,21.03 354.05,21.49 355.44,21.97 356.83,22.48 358.22,23.01 359.61,23.56 361,24.14 362.39,24.8 363.79,25.53 365.18,26.33 366.57,27.18 367.96,28.08 369.35,28.97 370.74,29.82 372.14,30.66 373.53,31.5 374.92,32.37 376.31,33.23 377.7,34.12 379.09,35.06 380.48,36.03 381.88,37.04 383.27,38.08 384.66,39.15 386.05,40.22 387.44,41.29 388.83,42.37 390.23,43.48 391.62,44.65 393.01,45.95 394.4,47.43 395,48.14 395.34,48.56 395.68,49 396.03,49.45 396.37,49.91 396.71,50.39 397.05,50.88 397.39,51.38 397.73,51.9 398.08,52.43 398.42,52.96 398.76,53.51 399.1,54.08 399.44,54.7 399.79,55.35 400.13,56.04 400.47,56.75 400.81,57.47 401.15,58.2 401.49,58.91 401.84,59.6 402.18,60.26 402.52,60.91 402.86,61.57 403.2,62.25 403.55,62.94 403.89,63.64 404.23,64.36 404.57,65.09 404.91,65.85 405.26,66.62 405.6,67.41 405.94,68.23 406.28,69.06 406.62,69.85 406.96,70.64 407.31,71.43 407.65,72.24 407.99,73.08 408.33,73.98 408.67,74.95 409.02,76 409.36,77.16 409.7,78.43 410.04,79.84 410.38,81.37 410.72,83 411.07,84.74 411.41,86.64 411.75,88.72 412,90.39 412.2,91.83 412.4,93.37 412.6,95.04 412.8,96.85 413,98.83 413.2,101.01 413.4,103.45 413.6,106.2 413.8,109.35 414,113.05 414.2,117.52 414.4,123.12 414.6,130.37 414.8,138.84 415,141.89 415.2,138.84 415.4,130.37 415.6,123.12 415.8,117.52 416,113.05 416.2,109.35 416.4,106.2 416.6,103.45 416.8,101.01 417,98.83 417.2,96.85 417.4,95.04 417.6,93.37 417.8,91.83 418,90.39 418.25,88.72 418.59,86.64 418.93,84.74 419.28,83 419.62,81.37 419.96,79.84 420.3,78.43 420.64,77.16 420.98,76 421.33,74.95 421.67,73.98 422.01,73.08 422.35,72.24 422.69,71.43 423.04,70.64 423.38,69.85 423.72,69.06 424.06,68.23 424.4,67.41 424.74,66.62 425.09,65.85 425.43,65.09 425.77,64.36 426.11,63.64 426.45,62.94 426.8,62.25 427.14,61.57 427.48,60.91 427.82,60.26 428.16,59.6 428.51,58.91 428.85,58.2 429.19,57.47 429.53,56.75 429.87,56.04 430.21,55.35 430.56,54.7 430.9,54.08 431.24,53.51 431.58,52.96 431.92,52.43 432.27,51.9 432.61,51.38 432.95,50.88 433.29,50.39 433.63,49.91 433.97,49.45 434.32,49 434.66,48.56 435,48.14 435.6,47.43 436.99,45.95 438.38,44.65 439.77,43.48 441.17,42.37 442.56,41.29 443.95,40.22 445.34,39.15 446.73,38.08 448.12,37.04 449.52,36.03 450.91,35.06 452.3,34.12 453.69,33.23 455.08,32.37 456.47,31.5 457.86,30.66 459.26,29.82 460.65,28.97 462.04,28.08 463.43,27.18 464.82,26.33 466.21,25.53 467.61,24.8 469,24.14 470.39,23.56 471.78,23.01 473.17,22.48 474.56,21.97 475.95,21.49 477.35,21.03 478.74,20.59 480.13,20.17 481.52,19.76 482.91,19.35 484.3,18.91 485.69,18.47 487.09,18.04 488.48,17.64 489.87,17.32 491.26,17.05 492.65,16.83 494.04,16.65 495.44,16.5 496.83,16.38 498.22,16.28 499.61,16.19 501,16.1 502.39,16 503.78,15.86 505.18,15.68 506.57,15.5 507.96,15.34 509.35,15.2 510.74,15.09 512.13,15 513.53,14.92 514.92,14.87 516.31,14.83 517.7,14.8" fill="none" stroke="#111" stroke-width="1.9" stroke-linejoin="round" stroke-dasharray="4.2 2.5"/>
<polyline points="312.3,14.48 313.69,14.51 315.08,14.56 316.47,14.63 317.87,14.71 319.26,14.82 320.65,14.95 322.04,15.1 323.43,15.28 324.82,15.49 326.22,15.69 327.61,15.86 329,15.99 330.39,16.1 331.78,16.21 333.17,16.32 334.56,16.46 335.96,16.64 337.35,16.86 338.74,17.12 340.13,17.43 341.52,17.83 342.91,18.3 344.31,18.83 345.7,19.36 347.09,19.88 348.48,20.37 349.87,20.83 351.26,21.32 352.65,21.83 354.05,22.37 355.44,22.94 356.83,23.53 358.22,24.15 359.61,24.79 361,25.48 362.39,26.26 363.79,27.12 365.18,28.06 366.57,29.06 367.96,30.1 369.35,31.08 370.74,31.96 372.14,32.79 373.53,33.62 374.92,34.51 376.31,35.5 377.7,36.54 379.09,37.63 380.48,38.8 381.88,40.06 383.27,41.41 384.66,42.79 386.05,44.17 387.44,45.56 388.83,46.93 390.23,48.3 391.62,49.73 393.01,51.29 394.4,53.23 395,54.19 395.34,54.76 395.68,55.35 396.03,55.96 396.37,56.57 396.71,57.2 397.05,57.83 397.39,58.46 397.73,59.09 398.08,59.71 398.42,60.32 398.76,60.96 399.1,61.61 399.44,62.27 399.79,62.95 400.13,63.65 400.47,64.35 400.81,65.06 401.15,65.78 401.49,66.49 401.84,67.2 402.18,67.9 402.52,68.59 402.86,69.26 403.2,69.93 403.55,70.61 403.89,71.3 404.23,72 404.57,72.72 404.91,73.47 405.26,74.25 405.6,75.06 405.94,75.92 406.28,76.79 406.62,77.61 406.96,78.41 407.31,79.2 407.65,80.01 407.99,80.87 408.33,81.79 408.67,82.81 409.02,83.94 409.36,85.22 409.7,86.66 410.04,88.29 410.38,90.06 410.72,91.95 411.07,93.95 411.41,96.11 411.75,98.49 412,100.39 412.2,102.03 412.4,103.79 412.6,105.68 412.8,107.73 413,109.97 413.2,112.44 413.4,115.18 413.6,118.25 413.8,121.73 414,125.69 414.2,130.19 414.4,135.05 414.6,139.41 414.8,141.69 415,141.89 415.2,141.69 415.4,139.41 415.6,135.05 415.8,130.19 416,125.69 416.2,121.73 416.4,118.25 416.6,115.18 416.8,112.44 417,109.97 417.2,107.73 417.4,105.68 417.6,103.79 417.8,102.03 418,100.39 418.25,98.49 418.59,96.11 418.93,93.95 419.28,91.95 419.62,90.06 419.96,88.29 420.3,86.66 420.64,85.22 420.98,83.94 421.33,82.81 421.67,81.79 422.01,80.87 422.35,80.01 422.69,79.2 423.04,78.41 423.38,77.61 423.72,76.79 424.06,75.92 424.4,75.06 424.74,74.25 425.09,73.47 425.43,72.72 425.77,72 426.11,71.3 426.45,70.61 426.8,69.93 427.14,69.26 427.48,68.59 427.82,67.9 428.16,67.2 428.51,66.49 428.85,65.78 429.19,65.06 429.53,64.35 429.87,63.65 430.21,62.95 430.56,62.27 430.9,61.61 431.24,60.96 431.58,60.32 431.92,59.71 432.27,59.09 432.61,58.46 432.95,57.83 433.29,57.2 433.63,56.57 433.97,55.96 434.32,55.35 434.66,54.76 435,54.19 435.6,53.23 436.99,51.29 438.38,49.73 439.77,48.3 441.17,46.93 442.56,45.56 443.95,44.17 445.34,42.79 446.73,41.41 448.12,40.06 449.52,38.8 450.91,37.63 452.3,36.54 453.69,35.5 455.08,34.51 456.47,33.62 457.86,32.79 459.26,31.96 460.65,31.08 462.04,30.1 463.43,29.06 464.82,28.06 466.21,27.12 467.61,26.26 469,25.48 470.39,24.79 471.78,24.15 473.17,23.53 474.56,22.94 475.95,22.37 477.35,21.83 478.74,21.32 480.13,20.83 481.52,20.37 482.91,19.88 484.3,19.36 485.69,18.83 487.09,18.3 488.48,17.83 489.87,17.43 491.26,17.12 492.65,16.86 494.04,16.64 495.44,16.46 496.83,16.32 498.22,16.21 499.61,16.1 501,15.99 502.39,15.86 503.78,15.69 505.18,15.49 506.57,15.28 507.96,15.1 509.35,14.95 510.74,14.82 512.13,14.71 513.53,14.63 514.92,14.56 516.31,14.51 517.7,14.48" fill="none" stroke="#111" stroke-width="1.9" stroke-linejoin="round" stroke-dasharray="4.2 2.5"/>
<polyline points="312.3,13.33 313.69,13.55 315.08,13.77 316.47,14 317.87,14.24 319.26,14.48 320.65,14.72 322.04,14.98 323.43,15.23 324.82,15.5 326.22,15.77 327.61,16.05 329,16.33 330.39,16.62 331.78,16.93 333.17,17.25 334.56,17.59 335.96,17.93 337.35,18.29 338.74,18.64 340.13,18.99 341.52,19.33 342.91,19.65 344.31,19.97 345.7,20.29 347.09,20.64 348.48,20.99 349.87,21.36 351.26,21.74 352.65,22.14 354.05,22.54 355.44,22.97 356.83,23.4 358.22,23.85 359.61,24.32 361,24.8 362.39,25.29 363.79,25.8 365.18,26.32 366.57,26.84 367.96,27.34 369.35,27.83 370.74,28.32 372.14,28.82 373.53,29.34 374.92,29.9 376.31,30.5 377.7,31.12 379.09,31.76 380.48,32.43 381.88,33.13 383.27,33.86 384.66,34.64 386.05,35.45 387.44,36.28 388.83,37.16 390.23,38.08 391.62,39.07 393.01,40.14 394.4,41.32 395,41.86 395.34,42.19 395.68,42.52 396.03,42.87 396.37,43.23 396.71,43.59 397.05,43.97 397.39,44.36 397.73,44.77 398.08,45.18 398.42,45.6 398.76,46.04 399.1,46.48 399.44,46.94 399.79,47.41 400.13,47.89 400.47,48.38 400.81,48.88 401.15,49.39 401.49,49.91 401.84,50.45 402.18,51.01 402.52,51.6 402.86,52.21 403.2,52.84 403.55,53.49 403.89,54.17 404.23,54.86 404.57,55.57 404.91,56.29 405.26,57.03 405.6,57.77 405.94,58.51 406.28,59.25 406.62,60.01 406.96,60.79 407.31,61.61 407.65,62.46 407.99,63.35 408.33,64.27 408.67,65.24 409.02,66.26 409.36,67.33 409.7,68.45 410.04,69.65 410.38,70.92 410.72,72.28 411.07,73.76 411.41,75.37 411.75,77.13 412,78.54 412.2,79.74 412.4,81.03 412.6,82.42 412.8,83.92 413,85.55 413.2,87.33 413.4,89.28 413.6,91.44 413.8,93.84 414,96.51 414.2,99.45 414.4,102.54 414.6,105.45 414.8,107.44 415,108 415.2,107.44 415.4,105.45 415.6,102.54 415.8,99.45 416,96.51 416.2,93.84 416.4,91.44 416.6,89.28 416.8,87.33 417,85.55 417.2,83.92 417.4,82.42 417.6,81.03 417.8,79.74 418,78.54 418.25,77.13 418.59,75.37 418.93,73.76 419.28,72.28 419.62,70.92 419.96,69.65 420.3,68.45 420.64,67.33 420.98,66.26 421.33,65.24 421.67,64.27 422.01,63.35 422.35,62.46 422.69,61.61 423.04,60.79 423.38,60.01 423.72,59.25 424.06,58.51 424.4,57.77 424.74,57.03 425.09,56.29 425.43,55.57 425.77,54.86 426.11,54.17 426.45,53.49 426.8,52.84 427.14,52.21 427.48,51.6 427.82,51.01 428.16,50.45 428.51,49.91 428.85,49.39 429.19,48.88 429.53,48.38 429.87,47.89 430.21,47.41 430.56,46.94 430.9,46.48 431.24,46.04 431.58,45.6 431.92,45.18 432.27,44.77 432.61,44.36 432.95,43.97 433.29,43.59 433.63,43.23 433.97,42.87 434.32,42.52 434.66,42.19 435,41.86 435.6,41.32 436.99,40.14 438.38,39.07 439.77,38.08 441.17,37.16 442.56,36.28 443.95,35.45 445.34,34.64 446.73,33.86 448.12,33.13 449.52,32.43 450.91,31.76 452.3,31.12 453.69,30.5 455.08,29.9 456.47,29.34 457.86,28.82 459.26,28.32 460.65,27.83 462.04,27.34 463.43,26.84 464.82,26.32 466.21,25.8 467.61,25.29 469,24.8 470.39,24.32 471.78,23.85 473.17,23.4 474.56,22.97 475.95,22.54 477.35,22.14 478.74,21.74 480.13,21.36 481.52,20.99 482.91,20.64 484.3,20.29 485.69,19.97 487.09,19.65 488.48,19.33 489.87,18.99 491.26,18.64 492.65,18.29 494.04,17.93 495.44,17.59 496.83,17.25 498.22,16.93 499.61,16.62 501,16.33 502.39,16.05 503.78,15.77 505.18,15.5 506.57,15.23 507.96,14.98 509.35,14.72 510.74,14.48 512.13,14.24 513.53,14 514.92,13.77 516.31,13.55 517.7,13.33" fill="none" stroke="#ff0000" stroke-width="1.6" stroke-linejoin="round" />
<polyline points="312.3,13.14 313.69,13.35 315.08,13.56 316.47,13.78 317.87,14.01 319.26,14.24 320.65,14.49 322.04,14.74 323.43,15 324.82,15.27 326.22,15.55 327.61,15.84 329,16.14 330.39,16.45 331.78,16.78 333.17,17.14 334.56,17.51 335.96,17.9 337.35,18.3 338.74,18.7 340.13,19.11 341.52,19.5 342.91,19.88 344.31,20.25 345.7,20.63 347.09,21.04 348.48,21.47 349.87,21.91 351.26,22.37 352.65,22.85 354.05,23.34 355.44,23.86 356.83,24.39 358.22,24.94 359.61,25.51 361,26.1 362.39,26.7 363.79,27.33 365.18,27.97 366.57,28.6 367.96,29.22 369.35,29.83 370.74,30.44 372.14,31.06 373.53,31.7 374.92,32.38 376.31,33.09 377.7,33.82 379.09,34.58 380.48,35.35 381.88,36.17 383.27,37.01 384.66,37.91 386.05,38.85 387.44,39.82 388.83,40.83 390.23,41.89 391.62,43.03 393.01,44.27 394.4,45.64 395,46.28 395.34,46.67 395.68,47.07 396.03,47.49 396.37,47.92 396.71,48.38 397.05,48.85 397.39,49.33 397.73,49.84 398.08,50.35 398.42,50.89 398.76,51.44 399.1,52 399.44,52.58 399.79,53.16 400.13,53.77 400.47,54.42 400.81,55.11 401.15,55.85 401.49,56.62 401.84,57.41 402.18,58.2 402.52,58.98 402.86,59.72 403.2,60.43 403.55,61.15 403.89,61.88 404.23,62.62 404.57,63.38 404.91,64.15 405.26,64.95 405.6,65.76 405.94,66.6 406.28,67.47 406.62,68.36 406.96,69.28 407.31,70.24 407.65,71.25 407.99,72.3 408.33,73.4 408.67,74.55 409.02,75.76 409.36,77.04 409.7,78.39 410.04,79.83 410.38,81.35 410.72,82.97 411.07,84.71 411.41,86.6 411.75,88.67 412,90.32 412.2,91.75 412.4,93.27 412.6,94.91 412.8,96.69 413,98.62 413.2,100.73 413.4,103.06 413.6,105.64 413.8,108.52 414,111.72 414.2,115.23 414.4,118.85 414.6,121.96 414.8,123.62 415,123.58 415.2,123.62 415.4,121.96 415.6,118.85 415.8,115.23 416,111.72 416.2,108.52 416.4,105.64 416.6,103.06 416.8,100.73 417,98.62 417.2,96.69 417.4,94.91 417.6,93.27 417.8,91.75 418,90.32 418.25,88.67 418.59,86.6 418.93,84.71 419.28,82.97 419.62,81.35 419.96,79.83 420.3,78.39 420.64,77.04 420.98,75.76 421.33,74.55 421.67,73.4 422.01,72.3 422.35,71.25 422.69,70.24 423.04,69.28 423.38,68.36 423.72,67.47 424.06,66.6 424.4,65.76 424.74,64.95 425.09,64.15 425.43,63.38 425.77,62.62 426.11,61.88 426.45,61.15 426.8,60.43 427.14,59.72 427.48,58.98 427.82,58.2 428.16,57.41 428.51,56.62 428.85,55.85 429.19,55.11 429.53,54.42 429.87,53.77 430.21,53.16 430.56,52.58 430.9,52 431.24,51.44 431.58,50.89 431.92,50.35 432.27,49.84 432.61,49.33 432.95,48.85 433.29,48.38 433.63,47.92 433.97,47.49 434.32,47.07 434.66,46.67 435,46.28 435.6,45.64 436.99,44.27 438.38,43.03 439.77,41.89 441.17,40.83 442.56,39.82 443.95,38.85 445.34,37.91 446.73,37.01 448.12,36.17 449.52,35.35 450.91,34.58 452.3,33.82 453.69,33.09 455.08,32.38 456.47,31.7 457.86,31.06 459.26,30.44 460.65,29.83 462.04,29.22 463.43,28.6 464.82,27.97 466.21,27.33 467.61,26.7 469,26.1 470.39,25.51 471.78,24.94 473.17,24.39 474.56,23.86 475.95,23.34 477.35,22.85 478.74,22.37 480.13,21.91 481.52,21.47 482.91,21.04 484.3,20.63 485.69,20.25 487.09,19.88 488.48,19.5 489.87,19.11 491.26,18.7 492.65,18.3 494.04,17.9 495.44,17.51 496.83,17.14 498.22,16.78 499.61,16.45 501,16.14 502.39,15.84 503.78,15.55 505.18,15.27 506.57,15 507.96,14.74 509.35,14.49 510.74,14.24 512.13,14.01 513.53,13.78 514.92,13.56 516.31,13.35 517.7,13.14" fill="none" stroke="#0000ff" stroke-width="1.6" stroke-linejoin="round" />
<polyline points="312.3,12.82 313.69,13.03 315.08,13.25 316.47,13.48 317.87,13.72 319.26,13.97 320.65,14.23 322.04,14.5 323.43,14.78 324.82,15.08 326.22,15.39 327.61,15.71 329,16.05 330.39,16.41 331.78,16.79 333.17,17.22 334.56,17.67 335.96,18.14 337.35,18.62 338.74,19.11 340.13,19.59 341.52,20.06 342.91,20.5 344.31,20.93 345.7,21.38 347.09,21.85 348.48,22.34 349.87,22.86 351.26,23.4 352.65,23.96 354.05,24.54 355.44,25.15 356.83,25.78 358.22,26.42 359.61,27.09 361,27.78 362.39,28.49 363.79,29.22 365.18,29.97 366.57,30.69 367.96,31.35 369.35,31.97 370.74,32.58 372.14,33.18 373.53,33.82 374.92,34.53 376.31,35.29 377.7,36.07 379.09,36.88 380.48,37.73 381.88,38.63 383.27,39.58 384.66,40.63 386.05,41.75 387.44,42.93 388.83,44.17 390.23,45.48 391.62,46.87 393.01,48.37 394.4,49.98 395,50.73 395.34,51.18 395.68,51.67 396.03,52.19 396.37,52.74 396.71,53.33 397.05,53.94 397.39,54.58 397.73,55.24 398.08,55.92 398.42,56.62 398.76,57.33 399.1,58.04 399.44,58.76 399.79,59.47 400.13,60.16 400.47,60.88 400.81,61.61 401.15,62.37 401.49,63.15 401.84,63.94 402.18,64.74 402.52,65.55 402.86,66.36 403.2,67.16 403.55,67.96 403.89,68.73 404.23,69.49 404.57,70.25 404.91,71.03 405.26,71.82 405.6,72.63 405.94,73.47 406.28,74.35 406.62,75.28 406.96,76.26 407.31,77.31 407.65,78.43 407.99,79.6 408.33,80.85 408.67,82.16 409.02,83.56 409.36,85.04 409.7,86.62 410.04,88.29 410.38,90.06 410.72,91.94 411.07,93.94 411.41,96.11 411.75,98.48 412,100.38 412.2,102.02 412.4,103.77 412.6,105.66 412.8,107.7 413,109.93 413.2,112.39 413.4,115.1 413.6,118.13 413.8,121.53 414,125.36 414.2,129.6 414.4,133.95 414.6,137.53 414.8,139.22 415,139.33 415.2,139.22 415.4,137.53 415.6,133.95 415.8,129.6 416,125.36 416.2,121.53 416.4,118.13 416.6,115.1 416.8,112.39 417,109.93 417.2,107.7 417.4,105.66 417.6,103.77 417.8,102.02 418,100.38 418.25,98.48 418.59,96.11 418.93,93.94 419.28,91.94 419.62,90.06 419.96,88.29 420.3,86.62 420.64,85.04 420.98,83.56 421.33,82.16 421.67,80.85 422.01,79.6 422.35,78.43 422.69,77.31 423.04,76.26 423.38,75.28 423.72,74.35 424.06,73.47 424.4,72.63 424.74,71.82 425.09,71.03 425.43,70.25 425.77,69.49 426.11,68.73 426.45,67.96 426.8,67.16 427.14,66.36 427.48,65.55 427.82,64.74 428.16,63.94 428.51,63.15 428.85,62.37 429.19,61.61 429.53,60.88 429.87,60.16 430.21,59.47 430.56,58.76 430.9,58.04 431.24,57.33 431.58,56.62 431.92,55.92 432.27,55.24 432.61,54.58 432.95,53.94 433.29,53.33 433.63,52.74 433.97,52.19 434.32,51.67 434.66,51.18 435,50.73 435.6,49.98 436.99,48.37 438.38,46.87 439.77,45.48 441.17,44.17 442.56,42.93 443.95,41.75 445.34,40.63 446.73,39.58 448.12,38.63 449.52,37.73 450.91,36.88 452.3,36.07 453.69,35.29 455.08,34.53 456.47,33.82 457.86,33.18 459.26,32.58 460.65,31.97 462.04,31.35 463.43,30.69 464.82,29.97 466.21,29.22 467.61,28.49 469,27.78 470.39,27.09 471.78,26.42 473.17,25.78 474.56,25.15 475.95,24.54 477.35,23.96 478.74,23.4 480.13,22.86 481.52,22.34 482.91,21.85 484.3,21.38 485.69,20.93 487.09,20.5 488.48,20.06 489.87,19.59 491.26,19.11 492.65,18.62 494.04,18.14 495.44,17.67 496.83,17.22 498.22,16.79 499.61,16.41 501,16.05 502.39,15.71 503.78,15.39 505.18,15.08 506.57,14.78 507.96,14.5 509.35,14.23 510.74,13.97 512.13,13.72 513.53,13.48 514.92,13.25 516.31,13.03 517.7,12.82" fill="none" stroke="#008000" stroke-width="1.6" stroke-linejoin="round" />
</g>
<g clip-path="url(#clb)">
<polyline points="313.3,233.87 314.16,235.43 315.02,237.07 315.89,238.8 316.75,240.61 317.61,242.51 318.47,244.48 319.33,246.54 320.19,248.68 321.06,250.9 321.92,253.2 322.78,255.57 323.64,258 324.5,260.5 325.36,263.04 326.23,265.6 327.09,268.11 327.95,270.47 328.81,272.36 329.67,273.16 330.69,272.69 331.71,271.45 332.73,269.77 333.74,267.85 334.76,265.82 335.77,263.74 336.78,261.65 337.79,259.57 338.79,257.52 339.8,255.51 340.8,253.55 341.8,251.65 342.8,249.82 343.8,248.07 344.8,246.89 345.79,245.28 346.79,243.76 347.78,242.35 348.77,241.03 349.76,239.83 350.74,238.73 351.73,237.75 352.71,236.88 353.7,236.13 354.68,235.51 355.65,235.01 356.63,234.63 357.61,234.38 358.58,234.25 359.55,234.25 360.52,234.38 361.49,234.63 362.46,235.01 363.42,235.51 364.39,236.13 365.35,236.88 366.31,237.75 367.27,238.73 368.22,239.83 369.18,241.03 370.13,242.35 371.09,243.76 372.04,245.28 372.99,246.89 373.94,248.6 374.88,250.39 375.83,252.26 376.77,254.2 377.71,256.21 378.65,258.29 379.59,260.43 380.52,262.62 381.46,264.85 382.39,267.12 383.32,269.43 384.25,271.76 385.18,274.09 386.11,276.4 387.03,278.13 387.75,276.35 388.47,273.99 389.18,271.6 389.88,269.23 390.57,266.87 391.25,264.55 391.93,262.27 392.59,260.03 393.24,257.85 393.89,255.73 394.52,253.67 395.14,251.68 395.74,249.78 396.34,247.95 396.92,246.21 397.49,244.56 398.04,243.01 398.58,241.56 399.11,240.22 399.62,238.99 400.11,237.87 400.59,236.87 401.05,235.98 401.5,235.22 401.92,234.58 402.33,234.07 402.72,233.68 403.09,233.42 403.44,233.29 403.77,233.29 404.1,233.42 404.43,233.68 404.75,234.07 405.07,234.22 405.39,234.85 405.7,235.61 406,236.48 406.3,237.48 406.6,238.58 406.89,239.8 407.17,241.13 407.44,242.56 407.71,244.09 407.96,245.72 408.21,247.43 408.45,249.22 408.68,251.1 408.9,253.04 409.11,255.04 409.31,257.1 409.5,259.2 409.67,261.32 409.84,263.46 409.99,265.6 410.12,267.68 410.24,269.65 410.35,271.38 410.45,272.67 410.53,273.16 410.66,271.04 410.81,266.98 410.97,262.62 411.12,258.39 411.28,254.43 411.43,250.79 411.59,247.19 411.74,243.68 411.9,240.54 412.05,238 412.21,236.35 412.36,235.22 412.52,234.21 412.67,233.39 412.83,232.84 412.98,232.61 413.14,232.67 413.29,232.89 413.45,233.2 413.6,233.57 413.76,233.96 413.91,234.33 414.07,234.64 414.22,234.93 414.38,235.22 414.53,235.52 414.69,235.81 414.84,236.11 415,236.4 415.16,236.11 415.31,235.81 415.47,235.52 415.62,235.22 415.78,234.93 415.93,234.64 416.09,234.33 416.24,233.96 416.4,233.57 416.55,233.2 416.71,232.89 416.86,232.67 417.02,232.61 417.17,232.84 417.33,233.39 417.48,234.21 417.64,235.22 417.79,236.35 417.95,238 418.1,240.54 418.26,243.68 418.41,247.19 418.57,250.79 418.72,254.43 418.88,258.39 419.03,262.62 419.19,266.98 419.34,271.04 419.47,273.16 419.55,272.67 419.65,271.38 419.76,269.65 419.88,267.68 420.01,265.6 420.16,263.46 420.33,261.32 420.5,259.2 420.69,257.1 420.89,255.04 421.1,253.04 421.32,251.1 421.55,249.22 421.79,247.43 422.04,245.72 422.29,244.09 422.56,242.56 422.83,241.13 423.11,239.8 423.4,238.58 423.7,237.48 424,236.48 424.3,235.61 424.61,234.85 424.93,234.22 425.25,234.07 425.57,233.68 425.9,233.42 426.23,233.29 426.56,233.29 426.91,233.42 427.28,233.68 427.67,234.07 428.08,234.58 428.5,235.22 428.95,235.98 429.41,236.87 429.89,237.87 430.38,238.99 430.89,240.22 431.42,241.56 431.96,243.01 432.51,244.56 433.08,246.21 433.66,247.95 434.26,249.78 434.86,251.68 435.48,253.67 436.11,255.73 436.76,257.85 437.41,260.03 438.07,262.27 438.75,264.55 439.43,266.87 440.12,269.23 440.82,271.6 441.53,273.99 442.25,276.35 442.97,278.13 443.89,276.4 444.82,274.09 445.75,271.76 446.68,269.43 447.61,267.12 448.54,264.85 449.48,262.62 450.41,260.43 451.35,258.29 452.29,256.21 453.23,254.2 454.17,252.26 455.12,250.39 456.06,248.6 457.01,246.89 457.96,245.28 458.91,243.76 459.87,242.35 460.82,241.03 461.78,239.83 462.73,238.73 463.69,237.75 464.65,236.88 465.61,236.13 466.58,235.51 467.54,235.01 468.51,234.63 469.48,234.38 470.45,234.25 471.42,234.25 472.39,234.38 473.37,234.63 474.35,235.01 475.32,235.51 476.3,236.13 477.29,236.88 478.27,237.75 479.26,238.73 480.24,239.83 481.23,241.03 482.22,242.35 483.21,243.76 484.21,245.28 485.2,246.89 486.2,248.07 487.2,249.82 488.2,251.65 489.2,253.55 490.2,255.51 491.21,257.52 492.21,259.57 493.22,261.65 494.23,263.74 495.24,265.82 496.26,267.85 497.27,269.77 498.29,271.45 499.31,272.69 500.33,273.16 501.19,272.36 502.05,270.47 502.91,268.11 503.77,265.6 504.64,263.04 505.5,260.5 506.36,258 507.22,255.57 508.08,253.2 508.94,250.9 509.81,248.68 510.67,246.54 511.53,244.48 512.39,242.51 513.25,240.61 514.11,238.8 514.98,237.07 515.84,235.43 516.7,233.87" fill="none" stroke="#ff0000" stroke-width="1.6" stroke-linejoin="round" />
<polyline points="313.3,195 314.06,197.95 314.81,201.06 315.57,204.34 316.33,207.78 317.09,211.38 317.84,215.15 318.6,219.07 319.36,223.16 320.12,227.42 320.87,231.83 321.63,236.41 322.39,241.15 323.15,246.05 323.9,251.12 324.66,256.34 325.42,261.73 326.18,267.28 326.93,272.97 327.69,278.13 328.57,274.35 329.45,269.92 330.33,265.48 331.22,261.08 332.11,256.73 333,252.44 333.89,248.22 334.78,244.09 335.68,240.06 336.58,236.14 337.48,232.34 338.38,228.67 339.28,225.14 340.19,221.77 341.1,218.56 342.01,215.52 342.92,212.66 343.83,209.98 344.75,207.5 345.67,205.23 346.59,203.16 347.51,201.31 348.43,199.67 349.36,198.27 350.29,197.09 351.22,196.14 352.15,195.43 353.08,194.95 354.02,194.71 354.96,194.71 355.9,194.95 356.84,195.43 357.78,196.14 358.73,197.09 359.68,198.27 360.63,199.67 361.58,201.31 362.54,203.16 363.49,205.23 364.45,207.5 365.41,209.98 366.38,212.66 367.34,215.52 368.31,218.56 369.28,221.77 370.25,225.14 371.22,228.67 372.2,232.34 373.18,236.14 374.16,240.06 375.14,244.09 376.12,248.22 377.11,252.44 378.1,256.73 379.09,261.08 380.08,265.48 381.07,269.92 382.07,274.35 383.07,278.13 383.87,274.35 384.67,269.92 385.46,265.48 386.24,261.08 387.01,256.73 387.77,252.44 388.52,248.22 389.27,244.09 389.99,240.06 390.71,236.14 391.42,232.34 392.11,228.67 392.79,225.14 393.45,221.77 394.1,218.56 394.74,215.52 395.36,212.66 395.96,209.98 396.55,207.5 397.12,205.23 397.68,203.16 398.21,201.31 398.73,199.67 399.23,198.27 399.71,197.09 400.17,196.14 400.61,195.43 401.03,194.95 401.43,194.71 401.8,194.71 402.18,194.95 402.55,195.43 402.91,196.14 403.27,197.09 403.63,198.27 403.98,199.67 404.33,201.31 404.67,203.16 405,205.13 405.33,207.4 405.65,209.88 405.96,212.55 406.26,215.41 406.55,218.44 406.84,221.65 407.11,225.01 407.37,228.53 407.62,232.19 407.86,235.98 408.09,239.88 408.31,243.89 408.51,247.99 408.7,252.17 408.87,256.41 409.03,260.69 409.17,264.97 409.3,269.16 409.41,273.01 409.51,275.07 409.69,272.64 409.88,268.33 410.07,263.7 410.26,259.02 410.45,254.36 410.64,249.73 410.83,245.13 411.02,240.57 411.21,236.06 411.4,231.59 411.59,227.16 411.78,222.74 411.97,217.95 412.16,213.06 412.34,208.49 412.53,204.66 412.72,201.97 412.91,199.84 413.1,197.88 413.29,196.25 413.48,195.1 413.67,194.61 413.86,194.63 414.05,194.79 414.24,195.14 414.43,195.74 414.62,196.66 414.81,197.95 415,199.7 415.19,197.95 415.38,196.66 415.57,195.74 415.76,195.14 415.95,194.79 416.14,194.63 416.33,194.61 416.52,195.1 416.71,196.25 416.9,197.88 417.09,199.84 417.28,201.97 417.47,204.66 417.66,208.49 417.84,213.06 418.03,217.95 418.22,222.74 418.41,227.16 418.6,231.59 418.79,236.06 418.98,240.57 419.17,245.13 419.36,249.73 419.55,254.36 419.74,259.02 419.93,263.7 420.12,268.33 420.31,272.64 420.49,275.07 420.59,273.01 420.7,269.16 420.83,264.97 420.97,260.69 421.13,256.41 421.3,252.17 421.49,247.99 421.69,243.89 421.91,239.88 422.14,235.98 422.38,232.19 422.63,228.53 422.89,225.01 423.16,221.65 423.45,218.44 423.74,215.41 424.04,212.55 424.35,209.88 424.67,207.4 425,205.13 425.33,203.16 425.67,201.31 426.02,199.67 426.37,198.27 426.73,197.09 427.09,196.14 427.45,195.43 427.82,194.95 428.2,194.71 428.57,194.71 428.97,194.95 429.39,195.43 429.83,196.14 430.29,197.09 430.77,198.27 431.27,199.67 431.79,201.31 432.32,203.16 432.88,205.23 433.45,207.5 434.04,209.98 434.64,212.66 435.26,215.52 435.9,218.56 436.55,221.77 437.21,225.14 437.89,228.67 438.58,232.34 439.29,236.14 440.01,240.06 440.73,244.09 441.48,248.22 442.23,252.44 442.99,256.73 443.76,261.08 444.54,265.48 445.33,269.92 446.13,274.35 446.93,278.13 447.93,274.35 448.93,269.92 449.92,265.48 450.91,261.08 451.9,256.73 452.89,252.44 453.88,248.22 454.86,244.09 455.84,240.06 456.82,236.14 457.8,232.34 458.78,228.67 459.75,225.14 460.72,221.77 461.69,218.56 462.66,215.52 463.62,212.66 464.59,209.98 465.55,207.5 466.51,205.23 467.46,203.16 468.42,201.31 469.37,199.67 470.32,198.27 471.27,197.09 472.22,196.14 473.16,195.43 474.1,194.95 475.04,194.71 475.98,194.71 476.92,194.95 477.85,195.43 478.78,196.14 479.71,197.09 480.64,198.27 481.57,199.67 482.49,201.31 483.41,203.16 484.33,205.23 485.25,207.5 486.17,209.98 487.08,212.66 487.99,215.52 488.9,218.56 489.81,221.77 490.72,225.14 491.62,228.67 492.52,232.34 493.42,236.14 494.32,240.06 495.22,244.09 496.11,248.22 497,252.44 497.89,256.73 498.78,261.08 499.67,265.48 500.55,269.92 501.43,274.35 502.31,278.13 503.07,272.97 503.82,267.28 504.58,261.73 505.34,256.34 506.1,251.12 506.85,246.05 507.61,241.15 508.37,236.41 509.13,231.83 509.88,227.42 510.64,223.16 511.4,219.07 512.16,215.15 512.91,211.38 513.67,207.78 514.43,204.34 515.19,201.06 515.94,197.95 516.7,195" fill="none" stroke="#0000ff" stroke-width="1.6" stroke-linejoin="round" />
<polyline points="313.3,180.94 313.97,184.38 314.65,188.02 315.32,191.84 316,195.86 316.67,200.06 317.35,204.45 318.02,209.03 318.7,213.81 319.37,218.77 320.04,223.92 320.72,229.26 321.39,234.78 322.07,240.5 322.74,246.4 323.42,252.49 324.09,258.75 324.77,265.17 325.44,271.66 326.11,276.6 326.88,273.19 327.65,268.21 328.43,263.1 329.21,258 329.99,252.95 330.77,247.96 331.56,243.05 332.35,238.24 333.15,233.54 333.94,228.97 334.74,224.54 335.54,220.26 336.35,216.15 337.16,212.21 337.97,208.47 338.79,204.92 339.6,201.59 340.42,198.47 341.25,195.58 342.07,192.92 342.9,190.51 343.73,188.35 344.57,186.47 345.41,184.83 346.25,183.45 347.09,182.35 347.94,181.51 348.79,180.96 349.64,180.68 350.49,180.68 351.35,180.96 352.21,181.51 353.08,182.35 353.94,183.45 354.81,184.83 355.69,186.47 356.57,188.38 357.45,190.54 358.33,192.95 359.22,195.6 360.11,198.5 361,201.62 361.9,204.95 362.8,208.5 363.7,212.25 364.61,216.19 365.52,220.3 366.43,224.58 367.34,229.01 368.26,233.59 369.18,238.29 370.11,243.11 371.03,248.03 371.96,253.04 372.9,258.12 373.83,263.25 374.77,268.43 375.71,273.62 376.66,278.13 377.65,273.41 378.63,268.02 379.6,262.64 380.56,257.31 381.51,252.03 382.44,246.83 383.37,241.72 384.28,236.71 385.17,231.83 386.06,227.07 386.92,222.46 387.77,218.02 388.61,213.74 389.43,209.65 390.23,205.76 391.01,202.07 391.78,198.61 392.53,195.36 393.25,192.36 393.96,189.6 394.64,187.1 395.31,184.85 395.95,182.87 396.57,181.16 397.16,179.73 397.74,178.58 398.28,177.72 398.81,177.14 399.3,176.85 399.78,176.85 400.24,177.14 400.71,177.72 401.17,178.58 401.62,179.73 402.07,181.16 402.51,182.87 402.94,184.85 403.37,187.1 403.79,189.6 404.19,192.36 404.59,195.36 404.98,198.52 405.36,201.98 405.73,205.66 406.09,209.55 406.43,213.64 406.76,217.9 407.08,222.34 407.38,226.94 407.67,231.68 407.95,236.55 408.2,241.53 408.44,246.61 408.67,251.77 408.87,256.99 409.06,262.22 409.23,267.39 409.38,272.25 409.51,275.07 409.69,272.32 409.88,267.52 410.07,262.35 410.26,257.07 410.45,251.73 410.64,246.41 410.83,241.1 411.02,235.73 411.21,230.26 411.4,224.64 411.59,218.63 411.78,212.28 411.97,205.93 412.16,199.96 412.34,194.67 412.53,189.33 412.72,184.37 412.91,180.81 413.1,179.25 413.29,178.16 413.48,177.33 413.67,176.85 413.86,176.75 414.05,176.75 414.24,176.75 414.43,176.75 414.62,176.75 414.81,176.75 415,176.75 415.19,176.75 415.38,176.75 415.57,176.75 415.76,176.75 415.95,176.75 416.14,176.75 416.33,176.85 416.52,177.33 416.71,178.16 416.9,179.25 417.09,180.81 417.28,184.37 417.47,189.33 417.66,194.67 417.84,199.96 418.03,205.93 418.22,212.28 418.41,218.63 418.6,224.64 418.79,230.26 418.98,235.73 419.17,241.1 419.36,246.41 419.55,251.73 419.74,257.07 419.93,262.35 420.12,267.52 420.31,272.32 420.49,275.07 420.62,272.25 420.77,267.39 420.94,262.22 421.13,256.99 421.33,251.77 421.56,246.61 421.8,241.53 422.05,236.55 422.33,231.68 422.62,226.94 422.92,222.34 423.24,217.9 423.57,213.64 423.91,209.55 424.27,205.66 424.64,201.98 425.02,198.52 425.41,195.36 425.81,192.36 426.21,189.6 426.63,187.1 427.06,184.85 427.49,182.87 427.93,181.16 428.38,179.73 428.83,178.58 429.29,177.72 429.76,177.14 430.22,176.85 430.7,176.85 431.19,177.14 431.72,177.72 432.26,178.58 432.84,179.73 433.43,181.16 434.05,182.87 434.69,184.85 435.36,187.1 436.04,189.6 436.75,192.36 437.47,195.36 438.22,198.61 438.99,202.07 439.77,205.76 440.57,209.65 441.39,213.74 442.23,218.02 443.08,222.46 443.94,227.07 444.83,231.83 445.72,236.71 446.63,241.72 447.56,246.83 448.49,252.03 449.44,257.31 450.4,262.64 451.37,268.02 452.35,273.41 453.34,278.13 454.29,273.62 455.23,268.43 456.17,263.25 457.1,258.12 458.04,253.04 458.97,248.03 459.89,243.11 460.82,238.29 461.74,233.59 462.66,229.01 463.57,224.58 464.48,220.3 465.39,216.19 466.3,212.25 467.2,208.5 468.1,204.95 469,201.62 469.89,198.5 470.78,195.6 471.67,192.95 472.55,190.54 473.43,188.38 474.31,186.47 475.19,184.83 476.06,183.45 476.92,182.35 477.79,181.51 478.65,180.96 479.51,180.68 480.36,180.68 481.21,180.96 482.06,181.51 482.91,182.35 483.75,183.45 484.59,184.83 485.43,186.47 486.27,188.35 487.1,190.51 487.93,192.92 488.75,195.58 489.58,198.47 490.4,201.59 491.21,204.92 492.03,208.47 492.84,212.21 493.65,216.15 494.46,220.26 495.26,224.54 496.06,228.97 496.85,233.54 497.65,238.24 498.44,243.05 499.23,247.96 500.01,252.95 500.79,258 501.57,263.1 502.35,268.21 503.12,273.19 503.89,276.6 504.56,271.66 505.23,265.17 505.91,258.75 506.58,252.49 507.26,246.4 507.93,240.5 508.61,234.78 509.28,229.26 509.96,223.92 510.63,218.77 511.3,213.81 511.98,209.03 512.65,204.45 513.33,200.06 514,195.86 514.68,191.84 515.35,188.02 516.03,184.38 516.7,180.94" fill="none" stroke="#008000" stroke-width="1.6" stroke-linejoin="round" />
</g>
<line x1="31.1" y1="6.3" x2="233.9" y2="6.3" stroke="#555" stroke-width="1" />
<line x1="233.4" y1="6.3" x2="233.4" y2="153.6" stroke="#555" stroke-width="1" />
<line x1="31.6" y1="5.8" x2="31.6" y2="280.5" stroke="#1a1a1a" stroke-width="1.1" />
<line x1="233.4" y1="153.6" x2="233.4" y2="280.5" stroke="#1a1a1a" stroke-width="1.1" />
<line x1="31.1" y1="280" x2="233.9" y2="280" stroke="#1a1a1a" stroke-width="1.3" />
<line x1="27.3" y1="153.6" x2="237.9" y2="153.6" stroke="#1a1a1a" stroke-width="1.3" />
<line x1="28.8" y1="10.57" x2="31.6" y2="10.57" stroke="#1a1a1a" stroke-width="1" />
<line x1="28.8" y1="18.99" x2="31.6" y2="18.99" stroke="#1a1a1a" stroke-width="1" />
<line x1="27.3" y1="27.4" x2="31.6" y2="27.4" stroke="#1a1a1a" stroke-width="1" />
<text x="26.4" y="30.1" font-family='"Liberation Sans", Arial, sans-serif' font-size="7.5" text-anchor="end" fill="#1a1a1a" stroke="#1a1a1a" stroke-width="0.16" >0</text>
<line x1="28.8" y1="35.81" x2="31.6" y2="35.81" stroke="#1a1a1a" stroke-width="1" />
<line x1="28.8" y1="44.23" x2="31.6" y2="44.23" stroke="#1a1a1a" stroke-width="1" />
<line x1="28.8" y1="52.64" x2="31.6" y2="52.64" stroke="#1a1a1a" stroke-width="1" />
<line x1="28.8" y1="61.06" x2="31.6" y2="61.06" stroke="#1a1a1a" stroke-width="1" />
<line x1="27.3" y1="69.47" x2="31.6" y2="69.47" stroke="#1a1a1a" stroke-width="1" />
<text x="26.4" y="72.17" font-family='"Liberation Sans", Arial, sans-serif' font-size="7.5" text-anchor="end" fill="#1a1a1a" stroke="#1a1a1a" stroke-width="0.16" >−10</text>
<line x1="28.8" y1="77.88" x2="31.6" y2="77.88" stroke="#1a1a1a" stroke-width="1" />
<line x1="28.8" y1="86.3" x2="31.6" y2="86.3" stroke="#1a1a1a" stroke-width="1" />
<line x1="28.8" y1="94.71" x2="31.6" y2="94.71" stroke="#1a1a1a" stroke-width="1" />
<line x1="28.8" y1="103.13" x2="31.6" y2="103.13" stroke="#1a1a1a" stroke-width="1" />
<line x1="27.3" y1="111.54" x2="31.6" y2="111.54" stroke="#1a1a1a" stroke-width="1" />
<text x="26.4" y="114.24" font-family='"Liberation Sans", Arial, sans-serif' font-size="7.5" text-anchor="end" fill="#1a1a1a" stroke="#1a1a1a" stroke-width="0.16" >−20</text>
<line x1="28.8" y1="119.95" x2="31.6" y2="119.95" stroke="#1a1a1a" stroke-width="1" />
<line x1="28.8" y1="128.37" x2="31.6" y2="128.37" stroke="#1a1a1a" stroke-width="1" />
<line x1="28.8" y1="136.78" x2="31.6" y2="136.78" stroke="#1a1a1a" stroke-width="1" />
<line x1="28.8" y1="145.2" x2="31.6" y2="145.2" stroke="#1a1a1a" stroke-width="1" />
<text x="26.4" y="156.31" font-family='"Liberation Sans", Arial, sans-serif' font-size="7.5" text-anchor="end" fill="#1a1a1a" stroke="#1a1a1a" stroke-width="0.16" >−30</text>
<line x1="233.4" y1="279.3" x2="237.9" y2="279.3" stroke="#1a1a1a" stroke-width="1" />
<text x="239.6" y="282" font-family='"Liberation Sans", Arial, sans-serif' font-size="7.5" text-anchor="start" fill="#1a1a1a" stroke="#1a1a1a" stroke-width="0.16" >0</text>
<line x1="233.4" y1="274.27" x2="236" y2="274.27" stroke="#1a1a1a" stroke-width="1" />
<line x1="233.4" y1="269.25" x2="236" y2="269.25" stroke="#1a1a1a" stroke-width="1" />
<line x1="233.4" y1="264.22" x2="236" y2="264.22" stroke="#1a1a1a" stroke-width="1" />
<line x1="233.4" y1="259.2" x2="236" y2="259.2" stroke="#1a1a1a" stroke-width="1" />
<line x1="233.4" y1="254.17" x2="237.9" y2="254.17" stroke="#1a1a1a" stroke-width="1" />
<text x="239.6" y="256.87" font-family='"Liberation Sans", Arial, sans-serif' font-size="7.5" text-anchor="start" fill="#1a1a1a" stroke="#1a1a1a" stroke-width="0.16" >0.05</text>
<line x1="233.4" y1="249.14" x2="236" y2="249.14" stroke="#1a1a1a" stroke-width="1" />
<line x1="233.4" y1="244.12" x2="236" y2="244.12" stroke="#1a1a1a" stroke-width="1" />
<line x1="233.4" y1="239.09" x2="236" y2="239.09" stroke="#1a1a1a" stroke-width="1" />
<line x1="233.4" y1="234.07" x2="236" y2="234.07" stroke="#1a1a1a" stroke-width="1" />
<line x1="233.4" y1="229.04" x2="237.9" y2="229.04" stroke="#1a1a1a" stroke-width="1" />
<text x="239.6" y="231.74" font-family='"Liberation Sans", Arial, sans-serif' font-size="7.5" text-anchor="start" fill="#1a1a1a" stroke="#1a1a1a" stroke-width="0.16" >0.1</text>
<line x1="233.4" y1="224.01" x2="236" y2="224.01" stroke="#1a1a1a" stroke-width="1" />
<line x1="233.4" y1="218.99" x2="236" y2="218.99" stroke="#1a1a1a" stroke-width="1" />
<line x1="233.4" y1="213.96" x2="236" y2="213.96" stroke="#1a1a1a" stroke-width="1" />
<line x1="233.4" y1="208.94" x2="236" y2="208.94" stroke="#1a1a1a" stroke-width="1" />
<line x1="233.4" y1="203.91" x2="237.9" y2="203.91" stroke="#1a1a1a" stroke-width="1" />
<text x="239.6" y="206.61" font-family='"Liberation Sans", Arial, sans-serif' font-size="7.5" text-anchor="start" fill="#1a1a1a" stroke="#1a1a1a" stroke-width="0.16" >0.15</text>
<line x1="233.4" y1="198.88" x2="236" y2="198.88" stroke="#1a1a1a" stroke-width="1" />
<line x1="233.4" y1="193.86" x2="236" y2="193.86" stroke="#1a1a1a" stroke-width="1" />
<line x1="233.4" y1="188.83" x2="236" y2="188.83" stroke="#1a1a1a" stroke-width="1" />
<line x1="233.4" y1="183.81" x2="236" y2="183.81" stroke="#1a1a1a" stroke-width="1" />
<line x1="233.4" y1="178.78" x2="237.9" y2="178.78" stroke="#1a1a1a" stroke-width="1" />
<text x="239.6" y="181.48" font-family='"Liberation Sans", Arial, sans-serif' font-size="7.5" text-anchor="start" fill="#1a1a1a" stroke="#1a1a1a" stroke-width="0.16" >0.2</text>
<line x1="233.4" y1="173.75" x2="236" y2="173.75" stroke="#1a1a1a" stroke-width="1" />
<line x1="233.4" y1="168.73" x2="236" y2="168.73" stroke="#1a1a1a" stroke-width="1" />
<line x1="233.4" y1="163.7" x2="236" y2="163.7" stroke="#1a1a1a" stroke-width="1" />
<line x1="233.4" y1="158.68" x2="236" y2="158.68" stroke="#1a1a1a" stroke-width="1" />
<text x="239.6" y="156.35" font-family='"Liberation Sans", Arial, sans-serif' font-size="7.5" text-anchor="start" fill="#1a1a1a" stroke="#1a1a1a" stroke-width="0.16" >0.25</text>
<line x1="31.8" y1="280" x2="31.8" y2="285.2" stroke="#1a1a1a" stroke-width="1" />
<line x1="62.02" y1="280" x2="62.02" y2="283.2" stroke="#1a1a1a" stroke-width="1" />
<line x1="79.7" y1="280" x2="79.7" y2="283.2" stroke="#1a1a1a" stroke-width="1" />
<line x1="92.25" y1="280" x2="92.25" y2="283.2" stroke="#1a1a1a" stroke-width="1" />
<line x1="101.98" y1="280" x2="101.98" y2="283.2" stroke="#1a1a1a" stroke-width="1" />
<line x1="109.93" y1="280" x2="109.93" y2="283.2" stroke="#1a1a1a" stroke-width="1" />
<line x1="116.65" y1="280" x2="116.65" y2="283.2" stroke="#1a1a1a" stroke-width="1" />
<line x1="122.47" y1="280" x2="122.47" y2="283.2" stroke="#1a1a1a" stroke-width="1" />
<line x1="127.61" y1="280" x2="127.61" y2="283.2" stroke="#1a1a1a" stroke-width="1" />
<text x="32.3" y="293.6" font-family='"Liberation Sans", Arial, sans-serif' font-size="7.6" text-anchor="middle" fill="#1a1a1a" stroke="#1a1a1a" stroke-width="0.2">10<tspan font-size="4.6" dy="-3.4" stroke="none">−1</tspan></text>
<line x1="132.2" y1="280" x2="132.2" y2="285.2" stroke="#1a1a1a" stroke-width="1" />
<line x1="162.42" y1="280" x2="162.42" y2="283.2" stroke="#1a1a1a" stroke-width="1" />
<line x1="180.1" y1="280" x2="180.1" y2="283.2" stroke="#1a1a1a" stroke-width="1" />
<line x1="192.65" y1="280" x2="192.65" y2="283.2" stroke="#1a1a1a" stroke-width="1" />
<line x1="202.38" y1="280" x2="202.38" y2="283.2" stroke="#1a1a1a" stroke-width="1" />
<line x1="210.33" y1="280" x2="210.33" y2="283.2" stroke="#1a1a1a" stroke-width="1" />
<line x1="217.05" y1="280" x2="217.05" y2="283.2" stroke="#1a1a1a" stroke-width="1" />
<line x1="222.87" y1="280" x2="222.87" y2="283.2" stroke="#1a1a1a" stroke-width="1" />
<line x1="228.01" y1="280" x2="228.01" y2="283.2" stroke="#1a1a1a" stroke-width="1" />
<text x="133" y="293.6" font-family='"Liberation Sans", Arial, sans-serif' font-size="7.6" text-anchor="middle" fill="#1a1a1a" stroke="#1a1a1a" stroke-width="0.2">10<tspan font-size="4.6" dy="-3.4" stroke="none">0</tspan></text>
<line x1="232.6" y1="280" x2="232.6" y2="285.2" stroke="#1a1a1a" stroke-width="1" />
<text x="233.4" y="293.6" font-family='"Liberation Sans", Arial, sans-serif' font-size="7.6" text-anchor="middle" fill="#1a1a1a" stroke="#1a1a1a" stroke-width="0.2">10<tspan font-size="4.6" dy="-3.4" stroke="none">1</tspan></text>
<text x="131.9" y="306.3" font-family='"Liberation Sans", Arial, sans-serif' font-size="8.8" text-anchor="middle" fill="#1a1a1a" stroke="#1a1a1a" stroke-width="0.2" >freq (rad/s)</text>
<text x="0" y="0" font-family='"Liberation Sans", Arial, sans-serif' font-size="8.6" text-anchor="middle" fill="#1a1a1a" stroke="#1a1a1a" stroke-width="0.2" transform="translate(11.8,80.75) rotate(-90)">gain (dB)</text>
<text x="0" y="0" font-family='"Liberation Sans", Arial, sans-serif' font-size="8.6" text-anchor="middle" fill="#1a1a1a" stroke="#1a1a1a" stroke-width="0.2" transform="translate(264.2,217) rotate(-90)">error (dB)</text>
<text x="133.4" y="323.7" font-family='"Liberation Serif", "DejaVu Serif", serif' font-size="14.6" text-anchor="middle" fill="#111">(<tspan font-weight="bold">a</tspan>)</text>
<line x1="312.4" y1="5.3" x2="518.1" y2="5.3" stroke="#555" stroke-width="1" />
<line x1="517.6" y1="5.3" x2="517.6" y2="151.3" stroke="#555" stroke-width="1" />
<line x1="312.9" y1="4.8" x2="312.9" y2="280.3" stroke="#1a1a1a" stroke-width="1.1" />
<line x1="517.6" y1="151.3" x2="517.6" y2="280.3" stroke="#1a1a1a" stroke-width="1.1" />
<line x1="312.4" y1="279.8" x2="518.1" y2="279.8" stroke="#1a1a1a" stroke-width="1.3" />
<line x1="308.6" y1="151.3" x2="522.1" y2="151.3" stroke="#1a1a1a" stroke-width="1.3" />
<line x1="310.1" y1="7.5" x2="312.9" y2="7.5" stroke="#1a1a1a" stroke-width="1" />
<line x1="308.6" y1="14.35" x2="312.9" y2="14.35" stroke="#1a1a1a" stroke-width="1" />
<text x="307.7" y="17.05" font-family='"Liberation Sans", Arial, sans-serif' font-size="7.5" text-anchor="end" fill="#1a1a1a" stroke="#1a1a1a" stroke-width="0.16" >0</text>
<line x1="310.1" y1="21.2" x2="312.9" y2="21.2" stroke="#1a1a1a" stroke-width="1" />
<line x1="310.1" y1="28.05" x2="312.9" y2="28.05" stroke="#1a1a1a" stroke-width="1" />
<line x1="310.1" y1="34.89" x2="312.9" y2="34.89" stroke="#1a1a1a" stroke-width="1" />
<line x1="310.1" y1="41.74" x2="312.9" y2="41.74" stroke="#1a1a1a" stroke-width="1" />
<line x1="308.6" y1="48.59" x2="312.9" y2="48.59" stroke="#1a1a1a" stroke-width="1" />
<text x="307.7" y="51.29" font-family='"Liberation Sans", Arial, sans-serif' font-size="7.5" text-anchor="end" fill="#1a1a1a" stroke="#1a1a1a" stroke-width="0.16" >−20</text>
<line x1="310.1" y1="55.44" x2="312.9" y2="55.44" stroke="#1a1a1a" stroke-width="1" />
<line x1="310.1" y1="62.29" x2="312.9" y2="62.29" stroke="#1a1a1a" stroke-width="1" />
<line x1="310.1" y1="69.13" x2="312.9" y2="69.13" stroke="#1a1a1a" stroke-width="1" />
<line x1="310.1" y1="75.98" x2="312.9" y2="75.98" stroke="#1a1a1a" stroke-width="1" />
<line x1="308.6" y1="82.83" x2="312.9" y2="82.83" stroke="#1a1a1a" stroke-width="1" />
<text x="307.7" y="85.53" font-family='"Liberation Sans", Arial, sans-serif' font-size="7.5" text-anchor="end" fill="#1a1a1a" stroke="#1a1a1a" stroke-width="0.16" >−40</text>
<line x1="310.1" y1="89.68" x2="312.9" y2="89.68" stroke="#1a1a1a" stroke-width="1" />
<line x1="310.1" y1="96.53" x2="312.9" y2="96.53" stroke="#1a1a1a" stroke-width="1" />
<line x1="310.1" y1="103.37" x2="312.9" y2="103.37" stroke="#1a1a1a" stroke-width="1" />
<line x1="310.1" y1="110.22" x2="312.9" y2="110.22" stroke="#1a1a1a" stroke-width="1" />
<line x1="308.6" y1="117.07" x2="312.9" y2="117.07" stroke="#1a1a1a" stroke-width="1" />
<text x="307.7" y="119.77" font-family='"Liberation Sans", Arial, sans-serif' font-size="7.5" text-anchor="end" fill="#1a1a1a" stroke="#1a1a1a" stroke-width="0.16" >−60</text>
<line x1="310.1" y1="123.92" x2="312.9" y2="123.92" stroke="#1a1a1a" stroke-width="1" />
<line x1="310.1" y1="130.77" x2="312.9" y2="130.77" stroke="#1a1a1a" stroke-width="1" />
<line x1="310.1" y1="137.61" x2="312.9" y2="137.61" stroke="#1a1a1a" stroke-width="1" />
<line x1="310.1" y1="144.46" x2="312.9" y2="144.46" stroke="#1a1a1a" stroke-width="1" />
<text x="307.7" y="154.01" font-family='"Liberation Sans", Arial, sans-serif' font-size="7.5" text-anchor="end" fill="#1a1a1a" stroke="#1a1a1a" stroke-width="0.16" >−80</text>
<line x1="517.6" y1="278.9" x2="522.1" y2="278.9" stroke="#1a1a1a" stroke-width="1" />
<text x="523.8" y="281.6" font-family='"Liberation Sans", Arial, sans-serif' font-size="7.5" text-anchor="start" fill="#1a1a1a" stroke="#1a1a1a" stroke-width="0.16" >0</text>
<line x1="517.6" y1="272.52" x2="520.2" y2="272.52" stroke="#1a1a1a" stroke-width="1" />
<line x1="517.6" y1="266.14" x2="520.2" y2="266.14" stroke="#1a1a1a" stroke-width="1" />
<line x1="517.6" y1="259.76" x2="520.2" y2="259.76" stroke="#1a1a1a" stroke-width="1" />
<line x1="517.6" y1="253.38" x2="520.2" y2="253.38" stroke="#1a1a1a" stroke-width="1" />
<line x1="517.6" y1="247" x2="522.1" y2="247" stroke="#1a1a1a" stroke-width="1" />
<text x="523.8" y="249.7" font-family='"Liberation Sans", Arial, sans-serif' font-size="7.5" text-anchor="start" fill="#1a1a1a" stroke="#1a1a1a" stroke-width="0.16" >0.5</text>
<line x1="517.6" y1="240.62" x2="520.2" y2="240.62" stroke="#1a1a1a" stroke-width="1" />
<line x1="517.6" y1="234.24" x2="520.2" y2="234.24" stroke="#1a1a1a" stroke-width="1" />
<line x1="517.6" y1="227.86" x2="520.2" y2="227.86" stroke="#1a1a1a" stroke-width="1" />
<line x1="517.6" y1="221.48" x2="520.2" y2="221.48" stroke="#1a1a1a" stroke-width="1" />
<line x1="517.6" y1="215.1" x2="522.1" y2="215.1" stroke="#1a1a1a" stroke-width="1" />
<text x="523.8" y="217.8" font-family='"Liberation Sans", Arial, sans-serif' font-size="7.5" text-anchor="start" fill="#1a1a1a" stroke="#1a1a1a" stroke-width="0.16" >1</text>
<line x1="517.6" y1="208.72" x2="520.2" y2="208.72" stroke="#1a1a1a" stroke-width="1" />
<line x1="517.6" y1="202.34" x2="520.2" y2="202.34" stroke="#1a1a1a" stroke-width="1" />
<line x1="517.6" y1="195.96" x2="520.2" y2="195.96" stroke="#1a1a1a" stroke-width="1" />
<line x1="517.6" y1="189.58" x2="520.2" y2="189.58" stroke="#1a1a1a" stroke-width="1" />
<line x1="517.6" y1="183.2" x2="522.1" y2="183.2" stroke="#1a1a1a" stroke-width="1" />
<text x="523.8" y="185.9" font-family='"Liberation Sans", Arial, sans-serif' font-size="7.5" text-anchor="start" fill="#1a1a1a" stroke="#1a1a1a" stroke-width="0.16" >1.5</text>
<line x1="517.6" y1="176.82" x2="520.2" y2="176.82" stroke="#1a1a1a" stroke-width="1" />
<line x1="517.6" y1="170.44" x2="520.2" y2="170.44" stroke="#1a1a1a" stroke-width="1" />
<line x1="517.6" y1="164.06" x2="520.2" y2="164.06" stroke="#1a1a1a" stroke-width="1" />
<line x1="517.6" y1="157.68" x2="520.2" y2="157.68" stroke="#1a1a1a" stroke-width="1" />
<text x="523.8" y="154" font-family='"Liberation Sans", Arial, sans-serif' font-size="7.5" text-anchor="start" fill="#1a1a1a" stroke="#1a1a1a" stroke-width="0.16" >2</text>
<line x1="313.3" y1="279.8" x2="313.3" y2="285" stroke="#1a1a1a" stroke-width="1" />
<line x1="343.91" y1="279.8" x2="343.91" y2="283" stroke="#1a1a1a" stroke-width="1" />
<line x1="361.82" y1="279.8" x2="361.82" y2="283" stroke="#1a1a1a" stroke-width="1" />
<line x1="374.53" y1="279.8" x2="374.53" y2="283" stroke="#1a1a1a" stroke-width="1" />
<line x1="384.39" y1="279.8" x2="384.39" y2="283" stroke="#1a1a1a" stroke-width="1" />
<line x1="392.44" y1="279.8" x2="392.44" y2="283" stroke="#1a1a1a" stroke-width="1" />
<line x1="399.25" y1="279.8" x2="399.25" y2="283" stroke="#1a1a1a" stroke-width="1" />
<line x1="405.14" y1="279.8" x2="405.14" y2="283" stroke="#1a1a1a" stroke-width="1" />
<line x1="410.35" y1="279.8" x2="410.35" y2="283" stroke="#1a1a1a" stroke-width="1" />
<text x="313.8" y="293.4" font-family='"Liberation Sans", Arial, sans-serif' font-size="7.6" text-anchor="middle" fill="#1a1a1a" stroke="#1a1a1a" stroke-width="0.2">10<tspan font-size="4.6" dy="-3.4" stroke="none">−1</tspan></text>
<line x1="415" y1="279.8" x2="415" y2="285" stroke="#1a1a1a" stroke-width="1" />
<line x1="445.61" y1="279.8" x2="445.61" y2="283" stroke="#1a1a1a" stroke-width="1" />
<line x1="463.52" y1="279.8" x2="463.52" y2="283" stroke="#1a1a1a" stroke-width="1" />
<line x1="476.23" y1="279.8" x2="476.23" y2="283" stroke="#1a1a1a" stroke-width="1" />
<line x1="486.09" y1="279.8" x2="486.09" y2="283" stroke="#1a1a1a" stroke-width="1" />
<line x1="494.14" y1="279.8" x2="494.14" y2="283" stroke="#1a1a1a" stroke-width="1" />
<line x1="500.95" y1="279.8" x2="500.95" y2="283" stroke="#1a1a1a" stroke-width="1" />
<line x1="506.84" y1="279.8" x2="506.84" y2="283" stroke="#1a1a1a" stroke-width="1" />
<line x1="512.05" y1="279.8" x2="512.05" y2="283" stroke="#1a1a1a" stroke-width="1" />
<text x="415.8" y="293.4" font-family='"Liberation Sans", Arial, sans-serif' font-size="7.6" text-anchor="middle" fill="#1a1a1a" stroke="#1a1a1a" stroke-width="0.2">10<tspan font-size="4.6" dy="-3.4" stroke="none">0</tspan></text>
<line x1="516.7" y1="279.8" x2="516.7" y2="285" stroke="#1a1a1a" stroke-width="1" />
<text x="517.5" y="293.4" font-family='"Liberation Sans", Arial, sans-serif' font-size="7.6" text-anchor="middle" fill="#1a1a1a" stroke="#1a1a1a" stroke-width="0.2">10<tspan font-size="4.6" dy="-3.4" stroke="none">1</tspan></text>
<text x="414.7" y="306.1" font-family='"Liberation Sans", Arial, sans-serif' font-size="8.8" text-anchor="middle" fill="#1a1a1a" stroke="#1a1a1a" stroke-width="0.2" >freq (rad/s)</text>
<text x="0" y="0" font-family='"Liberation Sans", Arial, sans-serif' font-size="8.6" text-anchor="middle" fill="#1a1a1a" stroke="#1a1a1a" stroke-width="0.2" transform="translate(291.7,79.1) rotate(-90)">gain (dB)</text>
<text x="0" y="0" font-family='"Liberation Sans", Arial, sans-serif' font-size="8.6" text-anchor="middle" fill="#1a1a1a" stroke="#1a1a1a" stroke-width="0.2" transform="translate(540.5,215.75) rotate(-90)">error (%)</text>
<text x="414.6" y="323.7" font-family='"Liberation Serif", "DejaVu Serif", serif' font-size="14.6" text-anchor="middle" fill="#111">(<tspan font-weight="bold">b</tspan>)</text>
<rect x="119.1" y="113.4" width="34.5" height="32.5" fill="#000"/>
<rect x="117.1" y="111.4" width="34.5" height="32.5" fill="#fff" stroke="#000" stroke-width="0.6"/>
<line x1="120.6" y1="117" x2="131.5" y2="117" stroke="#111" stroke-width="1.8" stroke-dasharray="4.2 2.5"/>
<text x="135.3" y="119.2" font-family='"Liberation Sans", Arial, sans-serif' font-size="6.2" text-anchor="start" fill="#1a1a1a" stroke="#1a1a1a" stroke-width="0.06" >ideal</text>
<line x1="120.6" y1="124" x2="131.5" y2="124" stroke="#ff0000" stroke-width="1.5" />
<text x="135.3" y="126.2" font-family='"Liberation Sans", Arial, sans-serif' font-size="6.2" text-anchor="start" fill="#1a1a1a" stroke="#1a1a1a" stroke-width="0.06" >1.2</text>
<line x1="120.6" y1="131.3" x2="131.5" y2="131.3" stroke="#0000ff" stroke-width="1.5" />
<text x="135.3" y="133.5" font-family='"Liberation Sans", Arial, sans-serif' font-size="6.2" text-anchor="start" fill="#1a1a1a" stroke="#1a1a1a" stroke-width="0.06" >1.4</text>
<line x1="120.6" y1="138.2" x2="131.5" y2="138.2" stroke="#008000" stroke-width="1.5" />
<text x="135.3" y="140.4" font-family='"Liberation Sans", Arial, sans-serif' font-size="6.2" text-anchor="start" fill="#1a1a1a" stroke="#1a1a1a" stroke-width="0.06" >1.6</text>
<rect x="323.8" y="102.3" width="34.5" height="32.5" fill="#000"/>
<rect x="321.8" y="100.3" width="34.5" height="32.5" fill="#fff" stroke="#000" stroke-width="0.6"/>
<line x1="325.3" y1="105.9" x2="336.2" y2="105.9" stroke="#111" stroke-width="1.8" stroke-dasharray="4.2 2.5"/>
<text x="340" y="108.1" font-family='"Liberation Sans", Arial, sans-serif' font-size="6.2" text-anchor="start" fill="#1a1a1a" stroke="#1a1a1a" stroke-width="0.06" >ideal</text>
<line x1="325.3" y1="112.9" x2="336.2" y2="112.9" stroke="#ff0000" stroke-width="1.5" />
<text x="340" y="115.1" font-family='"Liberation Sans", Arial, sans-serif' font-size="6.2" text-anchor="start" fill="#1a1a1a" stroke="#1a1a1a" stroke-width="0.06" >1.2</text>
<line x1="325.3" y1="120.2" x2="336.2" y2="120.2" stroke="#0000ff" stroke-width="1.5" />
<text x="340" y="122.4" font-family='"Liberation Sans", Arial, sans-serif' font-size="6.2" text-anchor="start" fill="#1a1a1a" stroke="#1a1a1a" stroke-width="0.06" >1.4</text>
<line x1="325.3" y1="127.1" x2="336.2" y2="127.1" stroke="#008000" stroke-width="1.5" />
<text x="340" y="129.3" font-family='"Liberation Sans", Arial, sans-serif' font-size="6.2" text-anchor="start" fill="#1a1a1a" stroke="#1a1a1a" stroke-width="0.06" >1.6</text>
</svg>
</body></html>
